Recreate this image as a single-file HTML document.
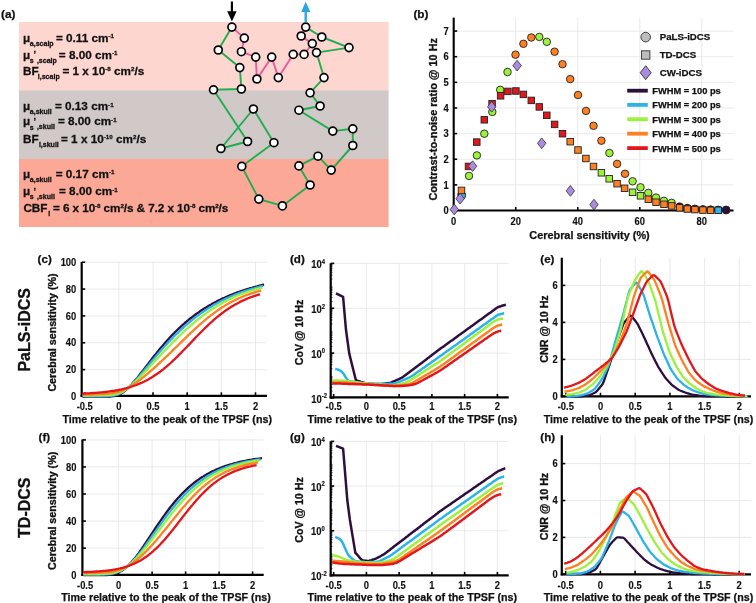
<!DOCTYPE html>
<html><head><meta charset="utf-8"><style>
html,body{margin:0;padding:0;background:#fff;}
svg{display:block;font-family:"Liberation Sans", sans-serif;will-change:transform;} text{stroke:#111;stroke-width:0.25px;} text.rot{stroke-width:0.32px;} text.tk{stroke-width:0.15px;}
</style></head><body>
<svg width="756" height="603" viewBox="0 0 756 603">
<rect width="756" height="603" fill="#fff"/>
<text x="1.0" y="18.0" font-size="11.8" text-anchor="start" font-weight="bold" fill="#111" >(a)</text>
<rect x="19" y="22" width="369.6" height="68.2" fill="#fdd6d0"/>
<rect x="19" y="90.2" width="369.6" height="68.8" fill="#d1c8c8"/>
<rect x="19" y="159" width="369.6" height="68" fill="#fba897"/>
<g transform="matrix(1.068,0,0,1,-1.564,0)">
<text x="23.0" y="41.9" font-size="11" font-weight="bold" fill="#111" text-anchor="start">μ</text>
<text x="29.37" y="45.6" font-size="6.6" font-weight="bold" fill="#111" text-anchor="start">a,scalp</text>
<text x="53.81" y="41.9" font-size="11" font-weight="bold" fill="#111">= 0.11 cm<tspan font-size="5.8" dy="-3.6">-1</tspan></text>
<text x="23.0" y="58.7" font-size="11" font-weight="bold" fill="#111" text-anchor="start">μ</text>
<text x="29.37" y="62.900000000000006" font-size="6.6" font-weight="bold" fill="#111" text-anchor="start">s</text>
<text x="32.93" y="57.5" font-size="8.5" font-weight="bold" fill="#111" text-anchor="start">’</text>
<text x="36.01" y="62.7" font-size="6.6" font-weight="bold" fill="#111" text-anchor="start">,scalp</text>
<text x="56.52" y="58.7" font-size="11" font-weight="bold" fill="#111">= 8.00 cm<tspan font-size="5.8" dy="-3.6">-1</tspan></text>
<text x="23.0" y="75.2" font-size="11" font-weight="bold" fill="#111" text-anchor="start">BF</text>
<text x="36.86" y="79.2" font-size="6.6" font-weight="bold" fill="#111" text-anchor="start">i,scalp</text>
<text x="59.89" y="75.2" font-size="11" font-weight="bold" fill="#111">= 1 x 10<tspan font-size="5.8" dy="-4">-8</tspan><tspan dy="4"> cm</tspan><tspan font-size="5.8" dy="-4">2</tspan><tspan dy="4">/s</tspan></text>
<text x="23.0" y="110.3" font-size="11" font-weight="bold" fill="#111" text-anchor="start">μ</text>
<text x="29.37" y="114.0" font-size="6.6" font-weight="bold" fill="#111" text-anchor="start">a,skull</text>
<text x="52.87" y="110.3" font-size="11" font-weight="bold" fill="#111">= 0.13 cm<tspan font-size="5.8" dy="-3.6">-1</tspan></text>
<text x="23.0" y="125.5" font-size="11" font-weight="bold" fill="#111" text-anchor="start">μ</text>
<text x="29.37" y="129.7" font-size="6.6" font-weight="bold" fill="#111" text-anchor="start">s</text>
<text x="32.93" y="124.3" font-size="8.5" font-weight="bold" fill="#111" text-anchor="start">’</text>
<text x="36.01" y="129.5" font-size="6.6" font-weight="bold" fill="#111" text-anchor="start">,skull</text>
<text x="55.68" y="125.5" font-size="11" font-weight="bold" fill="#111">= 8.00 cm<tspan font-size="5.8" dy="-3.6">-1</tspan></text>
<text x="23.0" y="142.9" font-size="11" font-weight="bold" fill="#111" text-anchor="start">BF</text>
<text x="37.89" y="147.2" font-size="6.6" font-weight="bold" fill="#111" text-anchor="start">i,skull</text>
<text x="58.58" y="142.9" font-size="11" font-weight="bold" fill="#111">= 1 x 10<tspan font-size="5.8" dy="-4">-10</tspan><tspan dy="4"> cm</tspan><tspan font-size="5.8" dy="-4">2</tspan><tspan dy="4">/s</tspan></text>
<text x="23.0" y="178.0" font-size="11" font-weight="bold" fill="#111" text-anchor="start">μ</text>
<text x="29.37" y="181.7" font-size="6.6" font-weight="bold" fill="#111" text-anchor="start">a,skull</text>
<text x="53.62" y="178.0" font-size="11" font-weight="bold" fill="#111">= 0.17 cm<tspan font-size="5.8" dy="-3.6">-1</tspan></text>
<text x="23.0" y="195.3" font-size="11" font-weight="bold" fill="#111" text-anchor="start">μ</text>
<text x="29.37" y="199.5" font-size="6.6" font-weight="bold" fill="#111" text-anchor="start">s</text>
<text x="32.93" y="194.10000000000002" font-size="8.5" font-weight="bold" fill="#111" text-anchor="start">’</text>
<text x="36.01" y="199.3" font-size="6.6" font-weight="bold" fill="#111" text-anchor="start">,skull</text>
<text x="56.71" y="195.3" font-size="11" font-weight="bold" fill="#111">= 8.00 cm<tspan font-size="5.8" dy="-3.6">-1</tspan></text>
<text x="23.37" y="212.0" font-size="11" font-weight="bold" fill="#111" text-anchor="start">CBF</text>
<text x="46.6" y="216.0" font-size="6.6" font-weight="bold" fill="#111" text-anchor="start">i</text>
<text x="51.09" y="212.0" font-size="11" font-weight="bold" fill="#111" letter-spacing="-0.08">= 6 x 10<tspan font-size="5.8" dy="-4">-8</tspan><tspan dy="4"> cm</tspan><tspan font-size="5.8" dy="-4">2</tspan><tspan dy="4">/s &amp; 7.2 x 10</tspan><tspan font-size="5.8" dy="-4">-8</tspan><tspan dy="4"> cm</tspan><tspan font-size="5.8" dy="-4">2</tspan><tspan dy="4">/s</tspan></text>
</g>
<polyline points="231.9,27.1 218.3,50.0 239.8,67.6 241.4,89.0 213.5,89.8 247.6,141.5 220.9,148.5 253.4,109.0 273.9,142.7 241.8,166.4 258.8,199.1 282.4,205.9 310.1,185.0 298.9,165.9 318.0,156.2 331.2,170.1 352.8,145.5 352.8,128.8 332.8,131.1 298.9,110.2 320.1,106.0 310.1,92.8 324.0,77.6 316.5,52.6 349.0,47.6 321.8,37.0 305.7,27.1" fill="none" stroke="#1fae4f" stroke-width="1.9" stroke-linejoin="round" stroke-linecap="butt" />
<polyline points="231.9,27.1 244.3,38.1 241.4,51.7 255.7,57.1 256.9,79.0 271.7,57.1 278.3,77.6 293.2,54.4 304.1,54.4 312.3,43.6 301.2,36.0 305.7,27.1" fill="none" stroke="#ec5aa2" stroke-width="1.9" stroke-linejoin="round" stroke-linecap="butt" />
<circle cx="256.9" cy="79" r="3.95" fill="#fff" stroke="#000" stroke-width="1.7"/>
<circle cx="282.4" cy="205.9" r="3.95" fill="#fff" stroke="#000" stroke-width="1.7"/>
<circle cx="301.2" cy="36" r="3.95" fill="#fff" stroke="#000" stroke-width="1.7"/>
<circle cx="241.8" cy="166.4" r="3.95" fill="#fff" stroke="#000" stroke-width="1.7"/>
<circle cx="218.3" cy="50" r="3.95" fill="#fff" stroke="#000" stroke-width="1.7"/>
<circle cx="273.9" cy="142.7" r="3.95" fill="#fff" stroke="#000" stroke-width="1.7"/>
<circle cx="310.1" cy="185" r="3.95" fill="#fff" stroke="#000" stroke-width="1.7"/>
<circle cx="258.8" cy="199.1" r="3.95" fill="#fff" stroke="#000" stroke-width="1.7"/>
<circle cx="244.3" cy="38.1" r="3.95" fill="#fff" stroke="#000" stroke-width="1.7"/>
<circle cx="220.9" cy="148.5" r="3.95" fill="#fff" stroke="#000" stroke-width="1.7"/>
<circle cx="278.3" cy="77.6" r="3.95" fill="#fff" stroke="#000" stroke-width="1.7"/>
<circle cx="253.4" cy="109" r="3.95" fill="#fff" stroke="#000" stroke-width="1.7"/>
<circle cx="241.4" cy="89" r="3.95" fill="#fff" stroke="#000" stroke-width="1.7"/>
<circle cx="321.8" cy="37" r="3.95" fill="#fff" stroke="#000" stroke-width="1.7"/>
<circle cx="247.6" cy="141.5" r="3.95" fill="#fff" stroke="#000" stroke-width="1.7"/>
<circle cx="320.1" cy="106" r="3.95" fill="#fff" stroke="#000" stroke-width="1.7"/>
<circle cx="298.9" cy="165.9" r="3.95" fill="#fff" stroke="#000" stroke-width="1.7"/>
<circle cx="271.7" cy="57.1" r="3.95" fill="#fff" stroke="#000" stroke-width="1.7"/>
<circle cx="324" cy="77.6" r="3.95" fill="#fff" stroke="#000" stroke-width="1.7"/>
<circle cx="312.3" cy="43.6" r="3.95" fill="#fff" stroke="#000" stroke-width="1.7"/>
<circle cx="318" cy="156.2" r="3.95" fill="#fff" stroke="#000" stroke-width="1.7"/>
<circle cx="349" cy="47.6" r="3.95" fill="#fff" stroke="#000" stroke-width="1.7"/>
<circle cx="241.4" cy="51.7" r="3.95" fill="#fff" stroke="#000" stroke-width="1.7"/>
<circle cx="331.2" cy="170.1" r="3.95" fill="#fff" stroke="#000" stroke-width="1.7"/>
<circle cx="213.5" cy="89.8" r="3.95" fill="#fff" stroke="#000" stroke-width="1.7"/>
<circle cx="298.9" cy="110.2" r="3.95" fill="#fff" stroke="#000" stroke-width="1.7"/>
<circle cx="332.8" cy="131.1" r="3.95" fill="#fff" stroke="#000" stroke-width="1.7"/>
<circle cx="310.1" cy="92.8" r="3.95" fill="#fff" stroke="#000" stroke-width="1.7"/>
<circle cx="352.8" cy="145.5" r="3.95" fill="#fff" stroke="#000" stroke-width="1.7"/>
<circle cx="316.5" cy="52.6" r="3.95" fill="#fff" stroke="#000" stroke-width="1.7"/>
<circle cx="239.8" cy="67.6" r="3.95" fill="#fff" stroke="#000" stroke-width="1.7"/>
<circle cx="231.9" cy="27.1" r="3.95" fill="#fff" stroke="#000" stroke-width="1.7"/>
<circle cx="352.8" cy="128.8" r="3.95" fill="#fff" stroke="#000" stroke-width="1.7"/>
<circle cx="255.7" cy="57.1" r="3.95" fill="#fff" stroke="#000" stroke-width="1.7"/>
<circle cx="305.7" cy="27.1" r="3.95" fill="#fff" stroke="#000" stroke-width="1.7"/>
<circle cx="293.2" cy="54.4" r="3.95" fill="#fff" stroke="#000" stroke-width="1.7"/>
<circle cx="304.1" cy="54.4" r="3.95" fill="#fff" stroke="#000" stroke-width="1.7"/>
<line x1="231.9" y1="1.5" x2="231.9" y2="14" stroke="#000" stroke-width="2.2"/>
<polygon points="227.2,11.2 236.6,11.2 231.9,21.5" fill="#000"/>
<line x1="305.7" y1="22.5" x2="305.7" y2="10" stroke="#29a6e0" stroke-width="2.4"/>
<polygon points="301.2,12 310.4,12 305.7,1.8" fill="#29a6e0"/>
<text x="413.4" y="18.1" font-size="11.8" text-anchor="start" font-weight="bold" fill="#111" >(b)</text>
<line x1="515.73" y1="17.6" x2="515.73" y2="210.5" stroke="#e4e4e4" stroke-width="0.8"/>
<line x1="577.77" y1="17.6" x2="577.77" y2="210.5" stroke="#e4e4e4" stroke-width="0.8"/>
<line x1="639.80" y1="17.6" x2="639.80" y2="210.5" stroke="#e4e4e4" stroke-width="0.8"/>
<line x1="701.84" y1="17.6" x2="701.84" y2="210.5" stroke="#e4e4e4" stroke-width="0.8"/>
<line x1="453.7" y1="184.87" x2="733.5" y2="184.87" stroke="#e4e4e4" stroke-width="0.8"/>
<line x1="453.7" y1="159.24" x2="733.5" y2="159.24" stroke="#e4e4e4" stroke-width="0.8"/>
<line x1="453.7" y1="133.61" x2="733.5" y2="133.61" stroke="#e4e4e4" stroke-width="0.8"/>
<line x1="453.7" y1="107.98" x2="733.5" y2="107.98" stroke="#e4e4e4" stroke-width="0.8"/>
<line x1="453.7" y1="82.35" x2="733.5" y2="82.35" stroke="#e4e4e4" stroke-width="0.8"/>
<line x1="453.7" y1="56.72" x2="733.5" y2="56.72" stroke="#e4e4e4" stroke-width="0.8"/>
<line x1="453.7" y1="31.09" x2="733.5" y2="31.09" stroke="#e4e4e4" stroke-width="0.8"/>
<circle cx="645.7" cy="37.1" r="4.8" fill="#bdbdbd" stroke="#333" stroke-width="0.9"/>
<rect x="641.5" y="50.8" width="8.4" height="8.4" fill="#bdbdbd" stroke="#333" stroke-width="0.9"/>
<polygon points="645.7,65.7 651.2,72.7 645.7,79.7 640.2,72.7" fill="#a98be0" stroke="#333" stroke-width="0.9"/>
<text x="659.7" y="40.4" font-size="9.7" text-anchor="start" font-weight="bold" fill="#111" >PaLS-iDCS</text>
<text x="659.7" y="58.1" font-size="9.7" text-anchor="start" font-weight="bold" fill="#111" >TD-DCS</text>
<text x="659.7" y="75.9" font-size="9.7" text-anchor="start" font-weight="bold" fill="#111" >CW-iDCS</text>
<line x1="627.2" y1="90.7" x2="647.8" y2="90.7" stroke="#2d0f3e" stroke-width="3.8"/>
<text x="652.3" y="94.10000000000001" font-size="9.3" text-anchor="start" font-weight="bold" fill="#111" >FWHM = 100 ps</text>
<line x1="627.2" y1="104.9" x2="647.8" y2="104.9" stroke="#2ab4e8" stroke-width="3.8"/>
<text x="652.3" y="108.30000000000001" font-size="9.3" text-anchor="start" font-weight="bold" fill="#111" >FWHM = 200 ps</text>
<line x1="627.2" y1="119.2" x2="647.8" y2="119.2" stroke="#9cf23a" stroke-width="3.8"/>
<text x="652.3" y="122.60000000000001" font-size="9.3" text-anchor="start" font-weight="bold" fill="#111" >FWHM = 300 ps</text>
<line x1="627.2" y1="133.7" x2="647.8" y2="133.7" stroke="#ff8020" stroke-width="3.8"/>
<text x="652.3" y="137.1" font-size="9.3" text-anchor="start" font-weight="bold" fill="#111" >FWHM = 400 ps</text>
<line x1="627.2" y1="148.1" x2="647.8" y2="148.1" stroke="#e3161c" stroke-width="3.8"/>
<text x="652.3" y="151.5" font-size="9.3" text-anchor="start" font-weight="bold" fill="#111" >FWHM = 500 ps</text>
<line x1="453.7" y1="17.6" x2="453.7" y2="211.5" stroke="#000" stroke-width="2.1"/>
<line x1="452.7" y1="210.5" x2="733.5" y2="210.5" stroke="#000" stroke-width="2.1"/>
<line x1="453.7" y1="210.50" x2="457.2" y2="210.50" stroke="#000" stroke-width="1.6"/>
<line x1="453.7" y1="184.87" x2="457.2" y2="184.87" stroke="#000" stroke-width="1.6"/>
<line x1="453.7" y1="159.24" x2="457.2" y2="159.24" stroke="#000" stroke-width="1.6"/>
<line x1="453.7" y1="133.61" x2="457.2" y2="133.61" stroke="#000" stroke-width="1.6"/>
<line x1="453.7" y1="107.98" x2="457.2" y2="107.98" stroke="#000" stroke-width="1.6"/>
<line x1="453.7" y1="82.35" x2="457.2" y2="82.35" stroke="#000" stroke-width="1.6"/>
<line x1="453.7" y1="56.72" x2="457.2" y2="56.72" stroke="#000" stroke-width="1.6"/>
<line x1="453.7" y1="31.09" x2="457.2" y2="31.09" stroke="#000" stroke-width="1.6"/>
<line x1="453.70" y1="210.5" x2="453.70" y2="207.0" stroke="#000" stroke-width="1.6"/>
<line x1="515.73" y1="210.5" x2="515.73" y2="207.0" stroke="#000" stroke-width="1.6"/>
<line x1="577.77" y1="210.5" x2="577.77" y2="207.0" stroke="#000" stroke-width="1.6"/>
<line x1="639.80" y1="210.5" x2="639.80" y2="207.0" stroke="#000" stroke-width="1.6"/>
<line x1="701.84" y1="210.5" x2="701.84" y2="207.0" stroke="#000" stroke-width="1.6"/>
<circle cx="461.5" cy="194.7" r="3.75" fill="#2d0f3e" stroke="#222" stroke-width="0.9"/>
<circle cx="461.9" cy="195.6" r="3.75" fill="#2ab4e8" stroke="#222" stroke-width="0.9"/>
<circle cx="469" cy="175.9" r="3.75" fill="#9cf23a" stroke="#222" stroke-width="0.9"/>
<circle cx="476.9" cy="155.4" r="3.75" fill="#9cf23a" stroke="#222" stroke-width="0.9"/>
<circle cx="484.3" cy="133.7" r="3.75" fill="#9cf23a" stroke="#222" stroke-width="0.9"/>
<circle cx="492.3" cy="111.9" r="3.75" fill="#9cf23a" stroke="#222" stroke-width="0.9"/>
<circle cx="500.2" cy="89.8" r="3.75" fill="#9cf23a" stroke="#222" stroke-width="0.9"/>
<circle cx="507.5" cy="72" r="3.75" fill="#9cf23a" stroke="#222" stroke-width="0.9"/>
<circle cx="515.5" cy="54.7" r="3.75" fill="#ff8020" stroke="#222" stroke-width="0.9"/>
<circle cx="523.4" cy="43.8" r="3.75" fill="#ff8020" stroke="#222" stroke-width="0.9"/>
<circle cx="531.3" cy="37.5" r="3.75" fill="#ff8020" stroke="#222" stroke-width="0.9"/>
<circle cx="539.3" cy="36.9" r="3.75" fill="#9cf23a" stroke="#222" stroke-width="0.9"/>
<circle cx="546.8" cy="41.8" r="3.75" fill="#9cf23a" stroke="#222" stroke-width="0.9"/>
<circle cx="554.6" cy="51.7" r="3.75" fill="#ff8020" stroke="#222" stroke-width="0.9"/>
<circle cx="562.5" cy="64.2" r="3.75" fill="#ff8020" stroke="#222" stroke-width="0.9"/>
<circle cx="570.2" cy="79.1" r="3.75" fill="#ff8020" stroke="#222" stroke-width="0.9"/>
<circle cx="578" cy="95" r="3.75" fill="#ff8020" stroke="#222" stroke-width="0.9"/>
<circle cx="586" cy="110.9" r="3.75" fill="#ff8020" stroke="#222" stroke-width="0.9"/>
<circle cx="593.5" cy="125.8" r="3.75" fill="#ff8020" stroke="#222" stroke-width="0.9"/>
<circle cx="601.4" cy="140.7" r="3.75" fill="#ff8020" stroke="#222" stroke-width="0.9"/>
<circle cx="609.4" cy="153" r="3.75" fill="#9cf23a" stroke="#222" stroke-width="0.9"/>
<circle cx="617.1" cy="163.9" r="3.75" fill="#ff8020" stroke="#222" stroke-width="0.9"/>
<circle cx="625" cy="173.8" r="3.75" fill="#ff8020" stroke="#222" stroke-width="0.9"/>
<circle cx="632.6" cy="181.3" r="3.75" fill="#9cf23a" stroke="#222" stroke-width="0.9"/>
<circle cx="640.5" cy="187.3" r="3.75" fill="#9cf23a" stroke="#222" stroke-width="0.9"/>
<circle cx="648.3" cy="192.9" r="3.75" fill="#9cf23a" stroke="#222" stroke-width="0.9"/>
<circle cx="656" cy="197.6" r="3.75" fill="#9cf23a" stroke="#222" stroke-width="0.9"/>
<circle cx="663.9" cy="200.8" r="3.75" fill="#9cf23a" stroke="#222" stroke-width="0.9"/>
<circle cx="671.6" cy="202.8" r="3.75" fill="#9cf23a" stroke="#222" stroke-width="0.9"/>
<circle cx="679.6" cy="206.6" r="3.75" fill="#2d0f3e" stroke="#222" stroke-width="0.9"/>
<circle cx="687.3" cy="208.0" r="3.75" fill="#2d0f3e" stroke="#222" stroke-width="0.9"/>
<circle cx="694.9" cy="208.8" r="3.75" fill="#2d0f3e" stroke="#222" stroke-width="0.9"/>
<circle cx="702.9" cy="209.3" r="3.75" fill="#2d0f3e" stroke="#222" stroke-width="0.9"/>
<circle cx="710.6" cy="209.6" r="3.75" fill="#2d0f3e" stroke="#222" stroke-width="0.9"/>
<circle cx="718.2" cy="209.8" r="3.75" fill="#2d0f3e" stroke="#222" stroke-width="0.9"/>
<circle cx="726.1" cy="209.8" r="3.75" fill="#2d0f3e" stroke="#222" stroke-width="0.9"/>
<rect x="458.25" y="187.15" width="6.5" height="6.5" fill="#ff8020" stroke="#222" stroke-width="0.9"/>
<rect x="465.25" y="163.15" width="6.5" height="6.5" fill="#e3161c" stroke="#222" stroke-width="0.9"/>
<rect x="473.55" y="138.85" width="6.5" height="6.5" fill="#e3161c" stroke="#222" stroke-width="0.9"/>
<rect x="481.05" y="116.55" width="6.5" height="6.5" fill="#e3161c" stroke="#222" stroke-width="0.9"/>
<rect x="488.85" y="100.45" width="6.5" height="6.5" fill="#e3161c" stroke="#222" stroke-width="0.9"/>
<rect x="497.35" y="92.55" width="6.5" height="6.5" fill="#e3161c" stroke="#222" stroke-width="0.9"/>
<rect x="504.65" y="88.15" width="6.5" height="6.5" fill="#e3161c" stroke="#222" stroke-width="0.9"/>
<rect x="512.65" y="87.75" width="6.5" height="6.5" fill="#e3161c" stroke="#222" stroke-width="0.9"/>
<rect x="520.15" y="91.15" width="6.5" height="6.5" fill="#e3161c" stroke="#222" stroke-width="0.9"/>
<rect x="528.05" y="97.15" width="6.5" height="6.5" fill="#e3161c" stroke="#222" stroke-width="0.9"/>
<rect x="536.05" y="103.65" width="6.5" height="6.5" fill="#e3161c" stroke="#222" stroke-width="0.9"/>
<rect x="543.55" y="112.05" width="6.5" height="6.5" fill="#e3161c" stroke="#222" stroke-width="0.9"/>
<rect x="551.35" y="121.15" width="6.5" height="6.5" fill="#e3161c" stroke="#222" stroke-width="0.9"/>
<rect x="559.25" y="130.45" width="6.5" height="6.5" fill="#e3161c" stroke="#222" stroke-width="0.9"/>
<rect x="566.95" y="138.45" width="6.5" height="6.5" fill="#ff8020" stroke="#222" stroke-width="0.9"/>
<rect x="574.75" y="146.75" width="6.5" height="6.5" fill="#ff8020" stroke="#222" stroke-width="0.9"/>
<rect x="582.65" y="155.25" width="6.5" height="6.5" fill="#ff8020" stroke="#222" stroke-width="0.9"/>
<rect x="590.25" y="163.25" width="6.5" height="6.5" fill="#ff8020" stroke="#222" stroke-width="0.9"/>
<rect x="598.15" y="169.55" width="6.5" height="6.5" fill="#9cf23a" stroke="#222" stroke-width="0.9"/>
<rect x="605.95" y="175.55" width="6.5" height="6.5" fill="#9cf23a" stroke="#222" stroke-width="0.9"/>
<rect x="613.85" y="180.45" width="6.5" height="6.5" fill="#ff8020" stroke="#222" stroke-width="0.9"/>
<rect x="621.35" y="185.05" width="6.5" height="6.5" fill="#ff8020" stroke="#222" stroke-width="0.9"/>
<rect x="629.35" y="189.05" width="6.5" height="6.5" fill="#9cf23a" stroke="#222" stroke-width="0.9"/>
<rect x="637.25" y="192.55" width="6.5" height="6.5" fill="#9cf23a" stroke="#222" stroke-width="0.9"/>
<rect x="645.05" y="195.95" width="6.5" height="6.5" fill="#ff8020" stroke="#222" stroke-width="0.9"/>
<rect x="652.75" y="198.95" width="6.5" height="6.5" fill="#ff8020" stroke="#222" stroke-width="0.9"/>
<rect x="660.75" y="201.05" width="6.5" height="6.5" fill="#ff8020" stroke="#222" stroke-width="0.9"/>
<rect x="668.35" y="202.65" width="6.5" height="6.5" fill="#ff8020" stroke="#222" stroke-width="0.9"/>
<rect x="676.35" y="204.55" width="6.5" height="6.5" fill="#ff8020" stroke="#222" stroke-width="0.9"/>
<rect x="684.05" y="205.75" width="6.5" height="6.5" fill="#ff8020" stroke="#222" stroke-width="0.9"/>
<rect x="691.65" y="206.35" width="6.5" height="6.5" fill="#ff8020" stroke="#222" stroke-width="0.9"/>
<rect x="699.65" y="206.85" width="6.5" height="6.5" fill="#ff8020" stroke="#222" stroke-width="0.9"/>
<rect x="707.35" y="207.05" width="6.5" height="6.5" fill="#ff8020" stroke="#222" stroke-width="0.9"/>
<rect x="714.95" y="207.05" width="6.5" height="6.5" fill="#2ab4e8" stroke="#222" stroke-width="0.9"/>
<circle cx="726.1" cy="210.2" r="3.75" fill="#2d0f3e" stroke="#222" stroke-width="0.9"/>
<polygon points="454.3,204.1 458.5,209.5 454.3,214.9 450.1,209.5" fill="#a98be0" stroke="#333" stroke-width="0.8"/>
<polygon points="460.1,193.29999999999998 464.3,198.7 460.1,204.1 455.90000000000003,198.7" fill="#a98be0" stroke="#333" stroke-width="0.8"/>
<polygon points="472.6,160.79999999999998 476.8,166.2 472.6,171.6 468.40000000000003,166.2" fill="#a98be0" stroke="#333" stroke-width="0.8"/>
<polygon points="491.7,101.39999999999999 495.9,106.8 491.7,112.2 487.5,106.8" fill="#a98be0" stroke="#333" stroke-width="0.8"/>
<polygon points="517.1,60.199999999999996 521.3000000000001,65.6 517.1,71.0 512.9,65.6" fill="#a98be0" stroke="#333" stroke-width="0.8"/>
<polygon points="541.7,137.9 545.9000000000001,143.3 541.7,148.70000000000002 537.5,143.3" fill="#a98be0" stroke="#333" stroke-width="0.8"/>
<polygon points="570.4,185.5 574.6,190.9 570.4,196.3 566.1999999999999,190.9" fill="#a98be0" stroke="#333" stroke-width="0.8"/>
<polygon points="594,199.2 598.2,204.6 594,210.0 589.8,204.6" fill="#a98be0" stroke="#333" stroke-width="0.8"/>
<text class="tk" x="0" y="0" font-size="10.2" text-anchor="end" font-weight="bold" fill="#111" transform="translate(448.60,214.20) scale(0.92,1)">0</text>
<text class="tk" x="0" y="0" font-size="10.2" text-anchor="end" font-weight="bold" fill="#111" transform="translate(448.60,188.57) scale(0.92,1)">1</text>
<text class="tk" x="0" y="0" font-size="10.2" text-anchor="end" font-weight="bold" fill="#111" transform="translate(448.60,162.94) scale(0.92,1)">2</text>
<text class="tk" x="0" y="0" font-size="10.2" text-anchor="end" font-weight="bold" fill="#111" transform="translate(448.60,137.31) scale(0.92,1)">3</text>
<text class="tk" x="0" y="0" font-size="10.2" text-anchor="end" font-weight="bold" fill="#111" transform="translate(448.60,111.68) scale(0.92,1)">4</text>
<text class="tk" x="0" y="0" font-size="10.2" text-anchor="end" font-weight="bold" fill="#111" transform="translate(448.60,86.05) scale(0.92,1)">5</text>
<text class="tk" x="0" y="0" font-size="10.2" text-anchor="end" font-weight="bold" fill="#111" transform="translate(448.60,60.42) scale(0.92,1)">6</text>
<text class="tk" x="0" y="0" font-size="10.2" text-anchor="end" font-weight="bold" fill="#111" transform="translate(448.60,34.79) scale(0.92,1)">7</text>
<text class="tk" x="0" y="0" font-size="10.2" text-anchor="middle" font-weight="bold" fill="#111" transform="translate(453.70,224.90) scale(0.92,1)">0</text>
<text class="tk" x="0" y="0" font-size="10.2" text-anchor="middle" font-weight="bold" fill="#111" transform="translate(515.73,224.90) scale(0.92,1)">20</text>
<text class="tk" x="0" y="0" font-size="10.2" text-anchor="middle" font-weight="bold" fill="#111" transform="translate(577.77,224.90) scale(0.92,1)">40</text>
<text class="tk" x="0" y="0" font-size="10.2" text-anchor="middle" font-weight="bold" fill="#111" transform="translate(639.80,224.90) scale(0.92,1)">60</text>
<text class="tk" x="0" y="0" font-size="10.2" text-anchor="middle" font-weight="bold" fill="#111" transform="translate(701.84,224.90) scale(0.92,1)">80</text>
<text x="589.5" y="238.9" font-size="10.9" text-anchor="middle" font-weight="bold" fill="#111" >Cerebral sensitivity (%)</text>
<text x="0" y="0" font-size="10.9" font-weight="bold" class="rot" fill="#111" text-anchor="middle" transform="translate(436.9,119.3) rotate(-90)">Contrast-to-noise ratio @ 10 Hz</text>
<line x1="118.90" y1="262" x2="118.90" y2="395.8" stroke="#e4e4e4" stroke-width="0.8"/>
<line x1="153.05" y1="262" x2="153.05" y2="395.8" stroke="#e4e4e4" stroke-width="0.8"/>
<line x1="187.20" y1="262" x2="187.20" y2="395.8" stroke="#e4e4e4" stroke-width="0.8"/>
<line x1="221.35" y1="262" x2="221.35" y2="395.8" stroke="#e4e4e4" stroke-width="0.8"/>
<line x1="255.50" y1="262" x2="255.50" y2="395.8" stroke="#e4e4e4" stroke-width="0.8"/>
<line x1="81.7" y1="369.64" x2="267" y2="369.64" stroke="#e4e4e4" stroke-width="0.8"/>
<line x1="81.7" y1="342.78" x2="267" y2="342.78" stroke="#e4e4e4" stroke-width="0.8"/>
<line x1="81.7" y1="315.92" x2="267" y2="315.92" stroke="#e4e4e4" stroke-width="0.8"/>
<line x1="81.7" y1="289.06" x2="267" y2="289.06" stroke="#e4e4e4" stroke-width="0.8"/>
<line x1="81.7" y1="262.20" x2="267" y2="262.20" stroke="#e4e4e4" stroke-width="0.8"/>
<line x1="81.7" y1="262" x2="81.7" y2="396.90000000000003" stroke="#000" stroke-width="2.2"/>
<line x1="80.60000000000001" y1="395.8" x2="267" y2="395.8" stroke="#000" stroke-width="2.2"/>
<line x1="81.7" y1="396.50" x2="85.2" y2="396.50" stroke="#000" stroke-width="1.6"/>
<text class="tk" x="0" y="0" font-size="10.2" text-anchor="end" font-weight="bold" fill="#111" transform="translate(76.30,400.20) scale(0.92,1)">0</text>
<line x1="81.7" y1="369.64" x2="85.2" y2="369.64" stroke="#000" stroke-width="1.6"/>
<text class="tk" x="0" y="0" font-size="10.2" text-anchor="end" font-weight="bold" fill="#111" transform="translate(76.30,373.34) scale(0.92,1)">20</text>
<line x1="81.7" y1="342.78" x2="85.2" y2="342.78" stroke="#000" stroke-width="1.6"/>
<text class="tk" x="0" y="0" font-size="10.2" text-anchor="end" font-weight="bold" fill="#111" transform="translate(76.30,346.48) scale(0.92,1)">40</text>
<line x1="81.7" y1="315.92" x2="85.2" y2="315.92" stroke="#000" stroke-width="1.6"/>
<text class="tk" x="0" y="0" font-size="10.2" text-anchor="end" font-weight="bold" fill="#111" transform="translate(76.30,319.62) scale(0.92,1)">60</text>
<line x1="81.7" y1="289.06" x2="85.2" y2="289.06" stroke="#000" stroke-width="1.6"/>
<text class="tk" x="0" y="0" font-size="10.2" text-anchor="end" font-weight="bold" fill="#111" transform="translate(76.30,292.76) scale(0.92,1)">80</text>
<line x1="81.7" y1="262.20" x2="85.2" y2="262.20" stroke="#000" stroke-width="1.6"/>
<text class="tk" x="0" y="0" font-size="10.2" text-anchor="end" font-weight="bold" fill="#111" transform="translate(76.30,265.90) scale(0.92,1)">100</text>
<line x1="84.75" y1="395.8" x2="84.75" y2="392.3" stroke="#000" stroke-width="1.6"/>
<text class="tk" x="0" y="0" font-size="10.2" text-anchor="middle" font-weight="bold" fill="#111" transform="translate(84.75,410.10) scale(0.92,1)">-0.5</text>
<line x1="118.90" y1="395.8" x2="118.90" y2="392.3" stroke="#000" stroke-width="1.6"/>
<text class="tk" x="0" y="0" font-size="10.2" text-anchor="middle" font-weight="bold" fill="#111" transform="translate(118.90,410.10) scale(0.92,1)">0</text>
<line x1="153.05" y1="395.8" x2="153.05" y2="392.3" stroke="#000" stroke-width="1.6"/>
<text class="tk" x="0" y="0" font-size="10.2" text-anchor="middle" font-weight="bold" fill="#111" transform="translate(153.05,410.10) scale(0.92,1)">0.5</text>
<line x1="187.20" y1="395.8" x2="187.20" y2="392.3" stroke="#000" stroke-width="1.6"/>
<text class="tk" x="0" y="0" font-size="10.2" text-anchor="middle" font-weight="bold" fill="#111" transform="translate(187.20,410.10) scale(0.92,1)">1</text>
<line x1="221.35" y1="395.8" x2="221.35" y2="392.3" stroke="#000" stroke-width="1.6"/>
<text class="tk" x="0" y="0" font-size="10.2" text-anchor="middle" font-weight="bold" fill="#111" transform="translate(221.35,410.10) scale(0.92,1)">1.5</text>
<line x1="255.50" y1="395.8" x2="255.50" y2="392.3" stroke="#000" stroke-width="1.6"/>
<text class="tk" x="0" y="0" font-size="10.2" text-anchor="middle" font-weight="bold" fill="#111" transform="translate(255.50,410.10) scale(0.92,1)">2</text>
<text x="167.25" y="422.8" font-size="10.7" text-anchor="middle" font-weight="bold" fill="#111" >Time relative to the peak of the TPSF (ns)</text>
<text x="0" y="0" font-size="10.7" font-weight="bold" class="rot" fill="#111" text-anchor="middle" transform="translate(55.6,332.5) rotate(-90)">Cerebral sensitivity (%)</text>
<text x="37.6" y="262.7" font-size="11.6" text-anchor="start" font-weight="bold" fill="#111" >(c)</text>
<polyline points="82.7,396.5 84.2,396.5 85.7,396.5 87.3,396.5 88.8,396.5 90.3,396.5 91.8,396.5 93.4,396.5 94.9,396.5 96.4,396.5 97.9,396.5 99.5,396.5 101.0,396.5 102.5,396.5 104.0,396.5 105.6,396.5 107.1,396.5 108.6,396.5 110.1,396.5 111.7,396.4 113.2,396.2 114.7,396.0 116.2,395.6 117.8,395.1 119.3,394.5 120.8,393.7 122.3,392.7 123.9,391.7 125.4,390.4 126.9,389.1 128.4,387.7 130.0,386.1 131.5,384.5 133.0,382.8 134.5,381.0 136.1,379.2 137.6,377.4 139.1,375.4 140.6,373.5 142.2,371.5 143.7,369.6 145.2,367.6 146.7,365.6 148.3,363.6 149.8,361.6 151.3,359.7 152.8,357.7 154.3,355.8 155.9,353.9 157.4,352.0 158.9,350.1 160.4,348.3 162.0,346.5 163.5,344.7 165.0,342.9 166.5,341.2 168.1,339.5 169.6,337.8 171.1,336.2 172.6,334.6 174.2,333.1 175.7,331.5 177.2,330.0 178.7,328.6 180.3,327.1 181.8,325.7 183.3,324.4 184.8,323.0 186.4,321.7 187.9,320.5 189.4,319.2 190.9,318.0 192.5,316.8 194.0,315.7 195.5,314.5 197.0,313.4 198.6,312.4 200.1,311.3 201.6,310.3 203.1,309.3 204.7,308.3 206.2,307.4 207.7,306.5 209.2,305.6 210.8,304.7 212.3,303.8 213.8,303.0 215.3,302.2 216.8,301.4 218.4,300.6 219.9,299.9 221.4,299.1 222.9,298.4 224.5,297.7 226.0,297.0 227.5,296.4 229.0,295.7 230.6,295.1 232.1,294.5 233.6,293.9 235.1,293.3 236.7,292.7 238.2,292.2 239.7,291.6 241.2,291.1 242.8,290.6 244.3,290.1 245.8,289.6 247.3,289.1 248.9,288.7 250.4,288.2 251.9,287.8 253.4,287.3 255.0,286.9 256.5,286.5 258.0,286.1 259.5,285.7 261.1,285.3 262.6,284.9 264.1,284.6" fill="none" stroke="#2d0f3e" stroke-width="2.3" stroke-linejoin="round" stroke-linecap="butt" />
<polyline points="82.7,396.1 84.2,396.1 85.7,396.1 87.2,396.1 88.8,396.1 90.3,396.1 91.8,396.1 93.3,396.1 94.8,396.1 96.3,396.1 97.9,396.0 99.4,396.0 100.9,396.0 102.4,396.0 103.9,396.0 105.4,396.0 106.9,395.9 108.5,395.9 110.0,395.9 111.5,395.8 113.0,395.6 114.5,395.4 116.0,395.0 117.6,394.6 119.1,394.0 120.6,393.3 122.1,392.4 123.6,391.5 125.1,390.4 126.6,389.2 128.2,387.9 129.7,386.5 131.2,385.1 132.7,383.5 134.2,381.9 135.7,380.3 137.2,378.6 138.8,376.8 140.3,375.1 141.8,373.3 143.3,371.5 144.8,369.7 146.3,367.8 147.9,366.0 149.4,364.2 150.9,362.3 152.4,360.5 153.9,358.7 155.4,356.9 156.9,355.1 158.5,353.3 160.0,351.6 161.5,349.9 163.0,348.1 164.5,346.5 166.0,344.8 167.6,343.1 169.1,341.5 170.6,339.9 172.1,338.4 173.6,336.8 175.1,335.3 176.6,333.8 178.2,332.3 179.7,330.9 181.2,329.5 182.7,328.1 184.2,326.7 185.7,325.4 187.3,324.0 188.8,322.8 190.3,321.5 191.8,320.3 193.3,319.0 194.8,317.9 196.3,316.7 197.9,315.6 199.4,314.4 200.9,313.4 202.4,312.3 203.9,311.3 205.4,310.2 206.9,309.2 208.5,308.3 210.0,307.3 211.5,306.4 213.0,305.5 214.5,304.6 216.0,303.8 217.6,302.9 219.1,302.1 220.6,301.3 222.1,300.5 223.6,299.8 225.1,299.1 226.6,298.3 228.2,297.6 229.7,297.0 231.2,296.3 232.7,295.7 234.2,295.0 235.7,294.4 237.3,293.8 238.8,293.2 240.3,292.7 241.8,292.1 243.3,291.6 244.8,291.1 246.3,290.6 247.9,290.1 249.4,289.6 250.9,289.2 252.4,288.7 253.9,288.3 255.4,287.8 257.0,287.4 258.5,287.0 260.0,286.6 261.5,286.2 263.0,285.9" fill="none" stroke="#2ab4e8" stroke-width="2.3" stroke-linejoin="round" stroke-linecap="butt" />
<polyline points="82.7,395.6 84.2,395.6 85.7,395.6 87.2,395.6 88.7,395.5 90.2,395.5 91.8,395.5 93.3,395.5 94.8,395.4 96.3,395.4 97.8,395.4 99.3,395.3 100.8,395.3 102.3,395.2 103.8,395.2 105.3,395.1 106.9,395.1 108.4,395.0 109.9,394.9 111.4,394.8 112.9,394.7 114.4,394.4 115.9,394.1 117.4,393.7 118.9,393.2 120.4,392.6 121.9,391.9 123.5,391.0 125.0,390.1 126.5,389.1 128.0,388.0 129.5,386.8 131.0,385.6 132.5,384.3 134.0,382.9 135.5,381.5 137.0,380.0 138.6,378.5 140.1,377.0 141.6,375.4 143.1,373.9 144.6,372.3 146.1,370.7 147.6,369.1 149.1,367.4 150.6,365.8 152.1,364.2 153.6,362.5 155.2,360.9 156.7,359.3 158.2,357.7 159.7,356.0 161.2,354.4 162.7,352.8 164.2,351.2 165.7,349.7 167.2,348.1 168.7,346.5 170.3,345.0 171.8,343.5 173.3,341.9 174.8,340.4 176.3,338.9 177.8,337.5 179.3,336.0 180.8,334.6 182.3,333.1 183.8,331.7 185.3,330.4 186.9,329.0 188.4,327.6 189.9,326.3 191.4,325.0 192.9,323.7 194.4,322.4 195.9,321.2 197.4,320.0 198.9,318.7 200.4,317.6 202.0,316.4 203.5,315.3 205.0,314.1 206.5,313.1 208.0,312.0 209.5,310.9 211.0,309.9 212.5,308.9 214.0,307.9 215.5,307.0 217.0,306.1 218.6,305.2 220.1,304.3 221.6,303.4 223.1,302.6 224.6,301.8 226.1,301.0 227.6,300.2 229.1,299.5 230.6,298.7 232.1,298.0 233.6,297.3 235.2,296.7 236.7,296.0 238.2,295.4 239.7,294.8 241.2,294.2 242.7,293.6 244.2,293.1 245.7,292.5 247.2,292.0 248.7,291.5 250.3,291.0 251.8,290.5 253.3,290.1 254.8,289.6 256.3,289.2 257.8,288.8 259.3,288.4 260.8,288.0 262.3,287.6" fill="none" stroke="#9cf23a" stroke-width="2.3" stroke-linejoin="round" stroke-linecap="butt" />
<polyline points="82.7,394.7 84.2,394.7 85.7,394.7 87.2,394.6 88.7,394.6 90.2,394.5 91.7,394.5 93.2,394.4 94.7,394.3 96.2,394.3 97.7,394.2 99.2,394.1 100.7,394.1 102.2,394.0 103.7,393.9 105.2,393.8 106.7,393.7 108.2,393.6 109.7,393.4 111.2,393.3 112.7,393.1 114.2,392.9 115.7,392.6 117.2,392.2 118.7,391.8 120.2,391.4 121.7,390.8 123.2,390.2 124.7,389.5 126.2,388.8 127.7,388.0 129.2,387.2 130.7,386.3 132.2,385.3 133.7,384.3 135.2,383.3 136.7,382.2 138.2,381.2 139.7,380.0 141.2,378.9 142.7,377.7 144.2,376.5 145.7,375.2 147.2,374.0 148.7,372.7 150.2,371.4 151.7,370.1 153.2,368.8 154.7,367.4 156.2,366.1 157.7,364.7 159.2,363.3 160.7,361.9 162.2,360.5 163.7,359.1 165.2,357.6 166.8,356.2 168.3,354.8 169.8,353.3 171.3,351.9 172.8,350.4 174.3,348.9 175.8,347.5 177.3,346.0 178.8,344.5 180.3,343.1 181.8,341.6 183.3,340.1 184.8,338.7 186.3,337.2 187.8,335.8 189.3,334.3 190.8,332.9 192.3,331.5 193.8,330.1 195.3,328.7 196.8,327.3 198.3,326.0 199.8,324.6 201.3,323.3 202.8,322.0 204.3,320.7 205.8,319.5 207.3,318.2 208.8,317.0 210.3,315.9 211.8,314.7 213.3,313.6 214.8,312.5 216.3,311.4 217.8,310.3 219.3,309.3 220.8,308.3 222.3,307.3 223.8,306.4 225.3,305.4 226.8,304.6 228.3,303.7 229.8,302.8 231.3,302.0 232.8,301.2 234.3,300.5 235.8,299.7 237.3,299.0 238.8,298.3 240.3,297.7 241.8,297.0 243.3,296.4 244.8,295.8 246.3,295.2 247.8,294.7 249.3,294.1 250.8,293.6 252.3,293.1 253.8,292.6 255.3,292.2 256.8,291.7 258.3,291.3 259.8,290.9 261.3,290.5" fill="none" stroke="#ff8020" stroke-width="2.3" stroke-linejoin="round" stroke-linecap="butt" />
<polyline points="82.7,393.6 84.2,393.5 85.7,393.4 87.2,393.4 88.7,393.3 90.2,393.2 91.6,393.1 93.1,393.0 94.6,392.9 96.1,392.8 97.6,392.7 99.1,392.6 100.6,392.4 102.1,392.3 103.6,392.1 105.1,392.0 106.5,391.8 108.0,391.6 109.5,391.4 111.0,391.2 112.5,391.0 114.0,390.8 115.5,390.5 117.0,390.3 118.5,390.0 120.0,389.7 121.4,389.4 122.9,389.0 124.4,388.7 125.9,388.3 127.4,387.9 128.9,387.5 130.4,387.0 131.9,386.5 133.4,386.0 134.9,385.5 136.3,385.0 137.8,384.4 139.3,383.8 140.8,383.1 142.3,382.5 143.8,381.8 145.3,381.0 146.8,380.2 148.3,379.4 149.7,378.6 151.2,377.7 152.7,376.8 154.2,375.8 155.7,374.8 157.2,373.8 158.7,372.8 160.2,371.7 161.7,370.5 163.2,369.3 164.6,368.1 166.1,366.9 167.6,365.6 169.1,364.3 170.6,363.0 172.1,361.6 173.6,360.2 175.1,358.8 176.6,357.3 178.1,355.9 179.5,354.4 181.0,352.9 182.5,351.3 184.0,349.8 185.5,348.3 187.0,346.7 188.5,345.1 190.0,343.6 191.5,342.0 193.0,340.4 194.4,338.9 195.9,337.3 197.4,335.8 198.9,334.2 200.4,332.7 201.9,331.2 203.4,329.7 204.9,328.2 206.4,326.8 207.9,325.4 209.3,324.0 210.8,322.6 212.3,321.3 213.8,319.9 215.3,318.6 216.8,317.4 218.3,316.2 219.8,315.0 221.3,313.8 222.8,312.7 224.2,311.6 225.7,310.5 227.2,309.5 228.7,308.5 230.2,307.5 231.7,306.6 233.2,305.7 234.7,304.8 236.2,304.0 237.7,303.2 239.1,302.4 240.6,301.6 242.1,300.9 243.6,300.2 245.1,299.6 246.6,298.9 248.1,298.3 249.6,297.7 251.1,297.2 252.6,296.6 254.0,296.1 255.5,295.6 257.0,295.2 258.5,294.7 260.0,294.3" fill="none" stroke="#e3161c" stroke-width="2.3" stroke-linejoin="round" stroke-linecap="butt" />
<line x1="118.60" y1="439.5" x2="118.60" y2="574.9" stroke="#e4e4e4" stroke-width="0.8"/>
<line x1="152.10" y1="439.5" x2="152.10" y2="574.9" stroke="#e4e4e4" stroke-width="0.8"/>
<line x1="185.60" y1="439.5" x2="185.60" y2="574.9" stroke="#e4e4e4" stroke-width="0.8"/>
<line x1="219.10" y1="439.5" x2="219.10" y2="574.9" stroke="#e4e4e4" stroke-width="0.8"/>
<line x1="252.60" y1="439.5" x2="252.60" y2="574.9" stroke="#e4e4e4" stroke-width="0.8"/>
<line x1="82.4" y1="548.14" x2="263.7" y2="548.14" stroke="#e4e4e4" stroke-width="0.8"/>
<line x1="82.4" y1="521.08" x2="263.7" y2="521.08" stroke="#e4e4e4" stroke-width="0.8"/>
<line x1="82.4" y1="494.02" x2="263.7" y2="494.02" stroke="#e4e4e4" stroke-width="0.8"/>
<line x1="82.4" y1="466.96" x2="263.7" y2="466.96" stroke="#e4e4e4" stroke-width="0.8"/>
<line x1="82.4" y1="439.90" x2="263.7" y2="439.90" stroke="#e4e4e4" stroke-width="0.8"/>
<line x1="82.4" y1="439.5" x2="82.4" y2="576.0" stroke="#000" stroke-width="2.2"/>
<line x1="81.30000000000001" y1="574.9" x2="263.7" y2="574.9" stroke="#000" stroke-width="2.2"/>
<line x1="82.4" y1="575.20" x2="85.9" y2="575.20" stroke="#000" stroke-width="1.6"/>
<text class="tk" x="0" y="0" font-size="10.2" text-anchor="end" font-weight="bold" fill="#111" transform="translate(76.50,578.90) scale(0.92,1)">0</text>
<line x1="82.4" y1="548.14" x2="85.9" y2="548.14" stroke="#000" stroke-width="1.6"/>
<text class="tk" x="0" y="0" font-size="10.2" text-anchor="end" font-weight="bold" fill="#111" transform="translate(76.50,551.84) scale(0.92,1)">20</text>
<line x1="82.4" y1="521.08" x2="85.9" y2="521.08" stroke="#000" stroke-width="1.6"/>
<text class="tk" x="0" y="0" font-size="10.2" text-anchor="end" font-weight="bold" fill="#111" transform="translate(76.50,524.78) scale(0.92,1)">40</text>
<line x1="82.4" y1="494.02" x2="85.9" y2="494.02" stroke="#000" stroke-width="1.6"/>
<text class="tk" x="0" y="0" font-size="10.2" text-anchor="end" font-weight="bold" fill="#111" transform="translate(76.50,497.72) scale(0.92,1)">60</text>
<line x1="82.4" y1="466.96" x2="85.9" y2="466.96" stroke="#000" stroke-width="1.6"/>
<text class="tk" x="0" y="0" font-size="10.2" text-anchor="end" font-weight="bold" fill="#111" transform="translate(76.50,470.66) scale(0.92,1)">80</text>
<line x1="82.4" y1="439.90" x2="85.9" y2="439.90" stroke="#000" stroke-width="1.6"/>
<text class="tk" x="0" y="0" font-size="10.2" text-anchor="end" font-weight="bold" fill="#111" transform="translate(76.50,443.60) scale(0.92,1)">100</text>
<line x1="85.10" y1="574.9" x2="85.10" y2="571.4" stroke="#000" stroke-width="1.6"/>
<text class="tk" x="0" y="0" font-size="10.2" text-anchor="middle" font-weight="bold" fill="#111" transform="translate(85.10,588.70) scale(0.92,1)">-0.5</text>
<line x1="118.60" y1="574.9" x2="118.60" y2="571.4" stroke="#000" stroke-width="1.6"/>
<text class="tk" x="0" y="0" font-size="10.2" text-anchor="middle" font-weight="bold" fill="#111" transform="translate(118.60,588.70) scale(0.92,1)">0</text>
<line x1="152.10" y1="574.9" x2="152.10" y2="571.4" stroke="#000" stroke-width="1.6"/>
<text class="tk" x="0" y="0" font-size="10.2" text-anchor="middle" font-weight="bold" fill="#111" transform="translate(152.10,588.70) scale(0.92,1)">0.5</text>
<line x1="185.60" y1="574.9" x2="185.60" y2="571.4" stroke="#000" stroke-width="1.6"/>
<text class="tk" x="0" y="0" font-size="10.2" text-anchor="middle" font-weight="bold" fill="#111" transform="translate(185.60,588.70) scale(0.92,1)">1</text>
<line x1="219.10" y1="574.9" x2="219.10" y2="571.4" stroke="#000" stroke-width="1.6"/>
<text class="tk" x="0" y="0" font-size="10.2" text-anchor="middle" font-weight="bold" fill="#111" transform="translate(219.10,588.70) scale(0.92,1)">1.5</text>
<line x1="252.60" y1="574.9" x2="252.60" y2="571.4" stroke="#000" stroke-width="1.6"/>
<text class="tk" x="0" y="0" font-size="10.2" text-anchor="middle" font-weight="bold" fill="#111" transform="translate(252.60,588.70) scale(0.92,1)">2</text>
<text x="166" y="600.6" font-size="10.7" text-anchor="middle" font-weight="bold" fill="#111" >Time relative to the peak of the TPSF (ns)</text>
<text x="0" y="0" font-size="10.7" font-weight="bold" class="rot" fill="#111" text-anchor="middle" transform="translate(55.6,510.9) rotate(-90)">Cerebral sensitivity (%)</text>
<text x="38.6" y="440.7" font-size="11.6" text-anchor="start" font-weight="bold" fill="#111" >(f)</text>
<polyline points="83.1,575.2 84.6,575.2 86.1,575.2 87.6,575.2 89.1,575.2 90.6,575.2 92.1,575.2 93.6,575.2 95.1,575.2 96.6,575.2 98.1,575.2 99.6,575.2 101.1,575.2 102.6,575.2 104.1,575.1 105.6,575.1 107.1,575.0 108.6,574.9 110.1,574.7 111.7,574.5 113.2,574.2 114.7,573.8 116.2,573.4 117.7,572.8 119.2,572.1 120.7,571.3 122.2,570.4 123.7,569.4 125.2,568.2 126.7,567.0 128.2,565.6 129.7,564.1 131.2,562.5 132.7,560.8 134.2,559.0 135.7,557.1 137.2,555.1 138.7,553.1 140.2,551.0 141.7,548.9 143.2,546.7 144.7,544.5 146.2,542.2 147.7,539.9 149.2,537.6 150.7,535.4 152.2,533.1 153.7,530.8 155.2,528.5 156.8,526.2 158.3,524.0 159.8,521.8 161.3,519.6 162.8,517.5 164.3,515.4 165.8,513.3 167.3,511.3 168.8,509.3 170.3,507.3 171.8,505.4 173.3,503.6 174.8,501.8 176.3,500.0 177.8,498.3 179.3,496.7 180.8,495.0 182.3,493.5 183.8,492.0 185.3,490.5 186.8,489.1 188.3,487.7 189.8,486.4 191.3,485.1 192.8,483.9 194.3,482.7 195.8,481.5 197.3,480.4 198.8,479.4 200.3,478.3 201.8,477.3 203.4,476.4 204.9,475.5 206.4,474.6 207.9,473.7 209.4,472.9 210.9,472.1 212.4,471.4 213.9,470.7 215.4,470.0 216.9,469.3 218.4,468.7 219.9,468.1 221.4,467.5 222.9,466.9 224.4,466.4 225.9,465.8 227.4,465.3 228.9,464.9 230.4,464.4 231.9,464.0 233.4,463.5 234.9,463.1 236.4,462.8 237.9,462.4 239.4,462.0 240.9,461.7 242.4,461.4 243.9,461.1 245.4,460.8 246.9,460.5 248.5,460.2 250.0,459.9 251.5,459.7 253.0,459.4 254.5,459.2 256.0,459.0 257.5,458.8 259.0,458.6 260.5,458.4 262.0,458.2" fill="none" stroke="#2d0f3e" stroke-width="2.3" stroke-linejoin="round" stroke-linecap="butt" />
<polyline points="83.1,574.7 84.6,574.7 86.1,574.7 87.6,574.7 89.1,574.7 90.6,574.7 92.0,574.7 93.5,574.7 95.0,574.7 96.5,574.6 98.0,574.6 99.5,574.6 101.0,574.6 102.5,574.6 104.0,574.5 105.5,574.4 107.0,574.4 108.5,574.2 109.9,574.1 111.4,573.9 112.9,573.6 114.4,573.2 115.9,572.8 117.4,572.3 118.9,571.7 120.4,571.0 121.9,570.2 123.4,569.3 124.9,568.3 126.4,567.1 127.9,565.9 129.3,564.6 130.8,563.2 132.3,561.7 133.8,560.1 135.3,558.4 136.8,556.7 138.3,554.9 139.8,553.0 141.3,551.1 142.8,549.1 144.3,547.1 145.8,545.0 147.2,543.0 148.7,540.9 150.2,538.8 151.7,536.6 153.2,534.5 154.7,532.4 156.2,530.3 157.7,528.2 159.2,526.1 160.7,524.0 162.2,521.9 163.7,519.9 165.2,517.9 166.6,515.9 168.1,513.9 169.6,512.0 171.1,510.1 172.6,508.2 174.1,506.4 175.6,504.6 177.1,502.9 178.6,501.2 180.1,499.5 181.6,497.9 183.1,496.3 184.5,494.8 186.0,493.3 187.5,491.8 189.0,490.4 190.5,489.0 192.0,487.7 193.5,486.4 195.0,485.1 196.5,483.9 198.0,482.8 199.5,481.6 201.0,480.5 202.5,479.5 203.9,478.5 205.4,477.5 206.9,476.5 208.4,475.6 209.9,474.8 211.4,473.9 212.9,473.1 214.4,472.3 215.9,471.6 217.4,470.9 218.9,470.2 220.4,469.5 221.8,468.9 223.3,468.3 224.8,467.7 226.3,467.1 227.8,466.6 229.3,466.1 230.8,465.6 232.3,465.1 233.8,464.7 235.3,464.2 236.8,463.8 238.3,463.4 239.8,463.1 241.2,462.7 242.7,462.4 244.2,462.0 245.7,461.7 247.2,461.4 248.7,461.1 250.2,460.9 251.7,460.6 253.2,460.4 254.7,460.1 256.2,459.9 257.7,459.7 259.1,459.5 260.6,459.3" fill="none" stroke="#2ab4e8" stroke-width="2.3" stroke-linejoin="round" stroke-linecap="butt" />
<polyline points="83.1,574.2 84.6,574.2 86.1,574.2 87.5,574.2 89.0,574.2 90.5,574.1 92.0,574.1 93.5,574.1 94.9,574.1 96.4,574.0 97.9,574.0 99.4,574.0 100.9,573.9 102.3,573.9 103.8,573.8 105.3,573.7 106.8,573.6 108.3,573.5 109.7,573.3 111.2,573.1 112.7,572.9 114.2,572.5 115.7,572.2 117.1,571.7 118.6,571.2 120.1,570.6 121.6,569.9 123.1,569.1 124.6,568.2 126.0,567.3 127.5,566.2 129.0,565.1 130.5,563.9 132.0,562.6 133.4,561.2 134.9,559.8 136.4,558.2 137.9,556.7 139.4,555.0 140.8,553.4 142.3,551.6 143.8,549.8 145.3,548.0 146.8,546.2 148.2,544.3 149.7,542.4 151.2,540.5 152.7,538.5 154.2,536.6 155.6,534.6 157.1,532.7 158.6,530.7 160.1,528.7 161.6,526.8 163.1,524.8 164.5,522.9 166.0,521.0 167.5,519.0 169.0,517.2 170.5,515.3 171.9,513.4 173.4,511.6 174.9,509.8 176.4,508.0 177.9,506.3 179.3,504.5 180.8,502.9 182.3,501.2 183.8,499.6 185.3,498.0 186.7,496.4 188.2,494.9 189.7,493.5 191.2,492.0 192.7,490.6 194.1,489.2 195.6,487.9 197.1,486.6 198.6,485.4 200.1,484.2 201.6,483.0 203.0,481.9 204.5,480.8 206.0,479.7 207.5,478.7 209.0,477.8 210.4,476.8 211.9,475.9 213.4,475.0 214.9,474.2 216.4,473.4 217.8,472.6 219.3,471.9 220.8,471.2 222.3,470.5 223.8,469.8 225.2,469.2 226.7,468.6 228.2,468.0 229.7,467.5 231.2,466.9 232.6,466.4 234.1,466.0 235.6,465.5 237.1,465.1 238.6,464.6 240.1,464.3 241.5,463.9 243.0,463.5 244.5,463.2 246.0,462.8 247.5,462.5 248.9,462.2 250.4,461.9 251.9,461.7 253.4,461.4 254.9,461.1 256.3,460.9 257.8,460.7 259.3,460.5" fill="none" stroke="#9cf23a" stroke-width="2.3" stroke-linejoin="round" stroke-linecap="butt" />
<polyline points="83.1,573.3 84.6,573.3 86.0,573.2 87.5,573.2 89.0,573.2 90.4,573.1 91.9,573.1 93.4,573.0 94.8,573.0 96.3,572.9 97.8,572.9 99.3,572.8 100.7,572.7 102.2,572.6 103.7,572.5 105.1,572.4 106.6,572.3 108.1,572.2 109.5,572.0 111.0,571.8 112.5,571.5 113.9,571.3 115.4,570.9 116.9,570.6 118.4,570.2 119.8,569.7 121.3,569.2 122.8,568.6 124.2,567.9 125.7,567.2 127.2,566.4 128.6,565.6 130.1,564.7 131.6,563.7 133.1,562.7 134.5,561.6 136.0,560.5 137.5,559.3 138.9,558.1 140.4,556.8 141.9,555.4 143.3,554.0 144.8,552.6 146.3,551.1 147.7,549.6 149.2,548.1 150.7,546.5 152.2,544.9 153.6,543.2 155.1,541.6 156.6,539.9 158.0,538.1 159.5,536.4 161.0,534.6 162.4,532.8 163.9,531.0 165.4,529.2 166.9,527.4 168.3,525.6 169.8,523.8 171.3,521.9 172.7,520.1 174.2,518.3 175.7,516.5 177.1,514.7 178.6,512.9 180.1,511.1 181.5,509.3 183.0,507.6 184.5,505.9 186.0,504.2 187.4,502.5 188.9,500.9 190.4,499.3 191.8,497.7 193.3,496.1 194.8,494.6 196.2,493.2 197.7,491.7 199.2,490.3 200.6,489.0 202.1,487.7 203.6,486.4 205.1,485.1 206.5,484.0 208.0,482.8 209.5,481.7 210.9,480.6 212.4,479.6 213.9,478.6 215.3,477.6 216.8,476.7 218.3,475.8 219.8,475.0 221.2,474.2 222.7,473.4 224.2,472.6 225.6,471.9 227.1,471.3 228.6,470.6 230.0,470.0 231.5,469.4 233.0,468.8 234.4,468.3 235.9,467.8 237.4,467.3 238.9,466.8 240.3,466.4 241.8,466.0 243.3,465.6 244.7,465.2 246.2,464.8 247.7,464.5 249.1,464.1 250.6,463.8 252.1,463.5 253.6,463.3 255.0,463.0 256.5,462.7 258.0,462.5" fill="none" stroke="#ff8020" stroke-width="2.3" stroke-linejoin="round" stroke-linecap="butt" />
<polyline points="83.1,572.1 84.5,572.1 86.0,572.0 87.5,572.0 88.9,571.9 90.4,571.9 91.8,571.8 93.3,571.7 94.8,571.6 96.2,571.5 97.7,571.4 99.1,571.3 100.6,571.2 102.0,571.1 103.5,570.9 105.0,570.8 106.4,570.6 107.9,570.5 109.3,570.3 110.8,570.1 112.3,569.9 113.7,569.6 115.2,569.4 116.6,569.1 118.1,568.8 119.5,568.5 121.0,568.1 122.5,567.8 123.9,567.4 125.4,566.9 126.8,566.5 128.3,566.0 129.8,565.5 131.2,564.9 132.7,564.3 134.1,563.7 135.6,563.0 137.0,562.3 138.5,561.5 140.0,560.7 141.4,559.9 142.9,559.0 144.3,558.0 145.8,557.0 147.3,556.0 148.7,554.9 150.2,553.7 151.6,552.5 153.1,551.3 154.5,549.9 156.0,548.6 157.5,547.2 158.9,545.7 160.4,544.2 161.8,542.6 163.3,541.1 164.8,539.4 166.2,537.7 167.7,536.0 169.1,534.3 170.6,532.5 172.0,530.7 173.5,528.9 175.0,527.0 176.4,525.2 177.9,523.3 179.3,521.4 180.8,519.5 182.2,517.6 183.7,515.8 185.2,513.9 186.6,512.1 188.1,510.2 189.5,508.4 191.0,506.6 192.5,504.9 193.9,503.1 195.4,501.5 196.8,499.8 198.3,498.2 199.7,496.6 201.2,495.0 202.7,493.5 204.1,492.1 205.6,490.6 207.0,489.3 208.5,487.9 210.0,486.7 211.4,485.4 212.9,484.2 214.3,483.1 215.8,482.0 217.2,480.9 218.7,479.9 220.2,478.9 221.6,478.0 223.1,477.1 224.5,476.2 226.0,475.4 227.5,474.6 228.9,473.9 230.4,473.2 231.8,472.5 233.3,471.9 234.7,471.2 236.2,470.7 237.7,470.1 239.1,469.6 240.6,469.1 242.0,468.6 243.5,468.2 245.0,467.7 246.4,467.3 247.9,467.0 249.3,466.6 250.8,466.3 252.2,465.9 253.7,465.6 255.2,465.3 256.6,465.1" fill="none" stroke="#e3161c" stroke-width="2.3" stroke-linejoin="round" stroke-linecap="butt" />
<line x1="366.40" y1="263.3" x2="366.40" y2="397.4" stroke="#e4e4e4" stroke-width="0.8"/>
<line x1="399.15" y1="263.3" x2="399.15" y2="397.4" stroke="#e4e4e4" stroke-width="0.8"/>
<line x1="431.90" y1="263.3" x2="431.90" y2="397.4" stroke="#e4e4e4" stroke-width="0.8"/>
<line x1="464.65" y1="263.3" x2="464.65" y2="397.4" stroke="#e4e4e4" stroke-width="0.8"/>
<line x1="497.40" y1="263.3" x2="497.40" y2="397.4" stroke="#e4e4e4" stroke-width="0.8"/>
<line x1="330.7" y1="353.12" x2="508.7" y2="353.12" stroke="#e4e4e4" stroke-width="0.8"/>
<line x1="330.7" y1="308.26" x2="508.7" y2="308.26" stroke="#e4e4e4" stroke-width="0.8"/>
<line x1="330.7" y1="263.40" x2="508.7" y2="263.40" stroke="#e4e4e4" stroke-width="0.8"/>
<line x1="330.7" y1="263.3" x2="330.7" y2="398.5" stroke="#000" stroke-width="2.2"/>
<line x1="329.59999999999997" y1="397.4" x2="508.7" y2="397.4" stroke="#000" stroke-width="2.2"/>
<line x1="330.7" y1="397.98" x2="334.2" y2="397.98" stroke="#000" stroke-width="1.6"/>
<text class="tk" x="0" y="0" font-size="10.3" font-weight="bold" fill="#111" transform="translate(311.20,402.68) scale(0.92,1)">10<tspan font-size="6.4" dy="-4.4">-2</tspan></text>
<line x1="330.7" y1="353.12" x2="334.2" y2="353.12" stroke="#000" stroke-width="1.6"/>
<text class="tk" x="0" y="0" font-size="10.3" font-weight="bold" fill="#111" transform="translate(311.20,357.82) scale(0.92,1)">10<tspan font-size="6.4" dy="-4.4">0</tspan></text>
<line x1="330.7" y1="308.26" x2="334.2" y2="308.26" stroke="#000" stroke-width="1.6"/>
<text class="tk" x="0" y="0" font-size="10.3" font-weight="bold" fill="#111" transform="translate(311.20,312.96) scale(0.92,1)">10<tspan font-size="6.4" dy="-4.4">2</tspan></text>
<line x1="330.7" y1="263.40" x2="334.2" y2="263.40" stroke="#000" stroke-width="1.6"/>
<text class="tk" x="0" y="0" font-size="10.3" font-weight="bold" fill="#111" transform="translate(311.20,268.10) scale(0.92,1)">10<tspan font-size="6.4" dy="-4.4">4</tspan></text>
<line x1="330.7" y1="391.23" x2="332.5" y2="391.23" stroke="#000" stroke-width="0.7"/>
<line x1="330.7" y1="387.28" x2="332.5" y2="387.28" stroke="#000" stroke-width="0.7"/>
<line x1="330.7" y1="384.48" x2="332.5" y2="384.48" stroke="#000" stroke-width="0.7"/>
<line x1="330.7" y1="382.30" x2="332.5" y2="382.30" stroke="#000" stroke-width="0.7"/>
<line x1="330.7" y1="380.53" x2="332.5" y2="380.53" stroke="#000" stroke-width="0.7"/>
<line x1="330.7" y1="379.02" x2="332.5" y2="379.02" stroke="#000" stroke-width="0.7"/>
<line x1="330.7" y1="377.72" x2="332.5" y2="377.72" stroke="#000" stroke-width="0.7"/>
<line x1="330.7" y1="376.58" x2="332.5" y2="376.58" stroke="#000" stroke-width="0.7"/>
<line x1="330.7" y1="368.80" x2="332.5" y2="368.80" stroke="#000" stroke-width="0.7"/>
<line x1="330.7" y1="364.85" x2="332.5" y2="364.85" stroke="#000" stroke-width="0.7"/>
<line x1="330.7" y1="362.05" x2="332.5" y2="362.05" stroke="#000" stroke-width="0.7"/>
<line x1="330.7" y1="359.87" x2="332.5" y2="359.87" stroke="#000" stroke-width="0.7"/>
<line x1="330.7" y1="358.10" x2="332.5" y2="358.10" stroke="#000" stroke-width="0.7"/>
<line x1="330.7" y1="356.59" x2="332.5" y2="356.59" stroke="#000" stroke-width="0.7"/>
<line x1="330.7" y1="355.29" x2="332.5" y2="355.29" stroke="#000" stroke-width="0.7"/>
<line x1="330.7" y1="354.15" x2="332.5" y2="354.15" stroke="#000" stroke-width="0.7"/>
<line x1="330.7" y1="346.37" x2="332.5" y2="346.37" stroke="#000" stroke-width="0.7"/>
<line x1="330.7" y1="342.42" x2="332.5" y2="342.42" stroke="#000" stroke-width="0.7"/>
<line x1="330.7" y1="339.62" x2="332.5" y2="339.62" stroke="#000" stroke-width="0.7"/>
<line x1="330.7" y1="337.44" x2="332.5" y2="337.44" stroke="#000" stroke-width="0.7"/>
<line x1="330.7" y1="335.67" x2="332.5" y2="335.67" stroke="#000" stroke-width="0.7"/>
<line x1="330.7" y1="334.16" x2="332.5" y2="334.16" stroke="#000" stroke-width="0.7"/>
<line x1="330.7" y1="332.86" x2="332.5" y2="332.86" stroke="#000" stroke-width="0.7"/>
<line x1="330.7" y1="331.72" x2="332.5" y2="331.72" stroke="#000" stroke-width="0.7"/>
<line x1="330.7" y1="323.94" x2="332.5" y2="323.94" stroke="#000" stroke-width="0.7"/>
<line x1="330.7" y1="319.99" x2="332.5" y2="319.99" stroke="#000" stroke-width="0.7"/>
<line x1="330.7" y1="317.19" x2="332.5" y2="317.19" stroke="#000" stroke-width="0.7"/>
<line x1="330.7" y1="315.01" x2="332.5" y2="315.01" stroke="#000" stroke-width="0.7"/>
<line x1="330.7" y1="313.24" x2="332.5" y2="313.24" stroke="#000" stroke-width="0.7"/>
<line x1="330.7" y1="311.73" x2="332.5" y2="311.73" stroke="#000" stroke-width="0.7"/>
<line x1="330.7" y1="310.43" x2="332.5" y2="310.43" stroke="#000" stroke-width="0.7"/>
<line x1="330.7" y1="309.29" x2="332.5" y2="309.29" stroke="#000" stroke-width="0.7"/>
<line x1="330.7" y1="301.51" x2="332.5" y2="301.51" stroke="#000" stroke-width="0.7"/>
<line x1="330.7" y1="297.56" x2="332.5" y2="297.56" stroke="#000" stroke-width="0.7"/>
<line x1="330.7" y1="294.76" x2="332.5" y2="294.76" stroke="#000" stroke-width="0.7"/>
<line x1="330.7" y1="292.58" x2="332.5" y2="292.58" stroke="#000" stroke-width="0.7"/>
<line x1="330.7" y1="290.81" x2="332.5" y2="290.81" stroke="#000" stroke-width="0.7"/>
<line x1="330.7" y1="289.30" x2="332.5" y2="289.30" stroke="#000" stroke-width="0.7"/>
<line x1="330.7" y1="288.00" x2="332.5" y2="288.00" stroke="#000" stroke-width="0.7"/>
<line x1="330.7" y1="286.86" x2="332.5" y2="286.86" stroke="#000" stroke-width="0.7"/>
<line x1="330.7" y1="279.08" x2="332.5" y2="279.08" stroke="#000" stroke-width="0.7"/>
<line x1="330.7" y1="275.13" x2="332.5" y2="275.13" stroke="#000" stroke-width="0.7"/>
<line x1="330.7" y1="272.33" x2="332.5" y2="272.33" stroke="#000" stroke-width="0.7"/>
<line x1="330.7" y1="270.15" x2="332.5" y2="270.15" stroke="#000" stroke-width="0.7"/>
<line x1="330.7" y1="268.38" x2="332.5" y2="268.38" stroke="#000" stroke-width="0.7"/>
<line x1="330.7" y1="266.87" x2="332.5" y2="266.87" stroke="#000" stroke-width="0.7"/>
<line x1="330.7" y1="265.57" x2="332.5" y2="265.57" stroke="#000" stroke-width="0.7"/>
<line x1="330.7" y1="264.43" x2="332.5" y2="264.43" stroke="#000" stroke-width="0.7"/>
<line x1="333.65" y1="397.4" x2="333.65" y2="393.9" stroke="#000" stroke-width="1.6"/>
<text class="tk" x="0" y="0" font-size="10.2" text-anchor="middle" font-weight="bold" fill="#111" transform="translate(333.65,410.10) scale(0.92,1)">-0.5</text>
<line x1="366.40" y1="397.4" x2="366.40" y2="393.9" stroke="#000" stroke-width="1.6"/>
<text class="tk" x="0" y="0" font-size="10.2" text-anchor="middle" font-weight="bold" fill="#111" transform="translate(366.40,410.10) scale(0.92,1)">0</text>
<line x1="399.15" y1="397.4" x2="399.15" y2="393.9" stroke="#000" stroke-width="1.6"/>
<text class="tk" x="0" y="0" font-size="10.2" text-anchor="middle" font-weight="bold" fill="#111" transform="translate(399.15,410.10) scale(0.92,1)">0.5</text>
<line x1="431.90" y1="397.4" x2="431.90" y2="393.9" stroke="#000" stroke-width="1.6"/>
<text class="tk" x="0" y="0" font-size="10.2" text-anchor="middle" font-weight="bold" fill="#111" transform="translate(431.90,410.10) scale(0.92,1)">1</text>
<line x1="464.65" y1="397.4" x2="464.65" y2="393.9" stroke="#000" stroke-width="1.6"/>
<text class="tk" x="0" y="0" font-size="10.2" text-anchor="middle" font-weight="bold" fill="#111" transform="translate(464.65,410.10) scale(0.92,1)">1.5</text>
<line x1="497.40" y1="397.4" x2="497.40" y2="393.9" stroke="#000" stroke-width="1.6"/>
<text class="tk" x="0" y="0" font-size="10.2" text-anchor="middle" font-weight="bold" fill="#111" transform="translate(497.40,410.10) scale(0.92,1)">2</text>
<text x="412.3" y="422.8" font-size="10.7" text-anchor="middle" font-weight="bold" fill="#111" >Time relative to the peak of the TPSF (ns)</text>
<text x="0" y="0" font-size="10.7" font-weight="bold" class="rot" fill="#111" text-anchor="middle" transform="translate(302.6,332.5) rotate(-90)">CoV @ 10 Hz</text>
<text x="290.0" y="262.7" font-size="11.6" text-anchor="start" font-weight="bold" fill="#111" >(d)</text>
<polyline points="336.0,293.3 343.1,296.9 346.0,330.0 349.3,353.8 355.9,380.3 355.9,380.4 356.9,380.6 357.9,380.9 358.9,381.2 359.9,381.5 360.9,381.9 361.9,382.2 362.9,382.5 363.9,382.8 364.9,383.1 365.9,383.4 366.9,383.6 367.9,383.7 368.9,383.7 369.9,383.8 370.9,383.8 371.9,383.8 372.9,383.9 373.9,383.9 374.9,384.0 375.9,384.0 376.9,384.1 377.9,384.1 378.9,384.1 379.9,384.1 380.9,384.0 381.9,383.9 382.9,383.8 383.9,383.7 384.9,383.6 385.9,383.4 386.9,383.3 387.9,383.2 388.9,383.1 389.9,382.9 390.9,382.6 391.9,382.2 392.9,381.7 393.9,381.3 394.9,380.9 395.9,380.4 396.9,380.0 397.9,379.5 398.9,379.1 399.9,378.6 400.9,378.2 401.9,377.6 402.9,377.0 403.9,376.3 404.9,375.6 405.9,374.8 406.9,374.0 407.9,373.3 408.9,372.5 409.9,371.8 410.9,371.0 411.9,370.3 412.9,369.5 413.9,368.7 414.9,368.0 415.9,367.2 416.9,366.5 417.9,365.7 418.9,365.0 419.9,364.2 420.9,363.4 421.9,362.7 422.9,361.9 423.9,361.2 424.9,360.4 425.9,359.7 426.9,358.9 427.9,358.1 428.9,357.4 429.9,356.6 430.9,355.9 431.9,355.1 432.9,354.3 433.9,353.6 434.9,352.8 435.9,352.1 436.9,351.3 437.9,350.6 438.9,349.8 439.9,349.1 440.9,348.3 441.9,347.6 442.9,346.9 443.9,346.2 444.9,345.4 445.9,344.7 446.9,344.0 447.9,343.3 448.9,342.5 449.9,341.8 450.9,341.1 451.9,340.4 452.9,339.7 453.9,338.9 454.9,338.2 455.9,337.5 456.9,336.8 457.9,336.0 458.9,335.3 459.9,334.6 460.9,333.9 461.9,333.1 462.9,332.4 463.9,331.7 464.9,331.0 465.9,330.2 466.9,329.5 467.9,328.8 468.9,328.1 469.9,327.4 470.9,326.6 471.9,325.9 472.9,325.2 473.9,324.5 474.9,323.7 475.9,323.0 476.9,322.3 477.9,321.6 478.9,320.8 479.9,320.1 480.9,319.4 481.9,318.7 482.9,318.0 483.9,317.2 484.9,316.5 485.9,315.8 486.9,315.1 487.9,314.3 488.9,313.6 489.9,312.9 490.9,312.2 491.9,311.4 492.9,310.7 493.9,310.0 494.9,309.3 495.9,308.5 496.9,307.8 497.9,307.2 498.9,306.8 499.9,306.5 500.9,306.2 501.9,305.8 502.9,305.5 503.9,305.2 504.9,304.9 505.9,304.7" fill="none" stroke="#2d0f3e" stroke-width="2.5" stroke-linejoin="round" stroke-linecap="butt" />
<polyline points="335.2,368.9 336.2,369.1 337.2,369.4 338.2,369.7 339.2,370.1 340.2,370.6 341.2,371.3 342.2,372.2 343.2,373.4 344.2,374.9 345.2,376.5 346.2,378.1 347.2,379.5 348.2,380.6 349.2,381.1 350.2,381.3 351.2,381.5 352.2,381.6 353.2,381.8 354.2,382.0 355.2,382.1 356.2,382.3 357.2,382.5 358.2,382.6 359.2,382.8 360.2,382.9 361.2,383.0 362.2,383.1 363.2,383.1 364.2,383.2 365.2,383.3 366.2,383.3 367.2,383.4 368.2,383.4 369.2,383.5 370.2,383.6 371.2,383.6 372.2,383.7 373.2,383.8 374.2,383.8 375.2,383.9 376.2,384.0 377.2,384.0 378.2,384.1 379.2,384.1 380.2,384.2 381.2,384.1 382.2,384.1 383.2,384.1 384.2,384.0 385.2,384.0 386.2,384.0 387.2,383.9 388.2,383.9 389.2,383.8 390.2,383.8 391.2,383.8 392.2,383.7 393.2,383.7 394.2,383.6 395.2,383.5 396.2,383.3 397.2,382.9 398.2,382.4 399.2,382.0 400.2,381.5 401.2,381.1 402.2,380.6 403.2,380.2 404.2,379.7 405.2,379.3 406.2,378.9 407.2,378.4 408.2,378.0 409.2,377.5 410.2,377.0 411.2,376.5 412.2,375.8 413.2,375.2 414.2,374.4 415.2,373.7 416.2,373.0 417.2,372.3 418.2,371.6 419.2,370.9 420.2,370.2 421.2,369.5 422.2,368.8 423.2,368.1 424.2,367.4 425.2,366.7 426.2,366.0 427.2,365.3 428.2,364.6 429.2,363.9 430.2,363.2 431.2,362.5 432.2,361.8 433.2,361.1 434.2,360.4 435.2,359.7 436.2,359.0 437.2,358.3 438.2,357.6 439.2,356.8 440.2,356.1 441.2,355.4 442.2,354.7 443.2,354.0 444.2,353.3 445.2,352.6 446.2,351.8 447.2,351.1 448.2,350.4 449.2,349.7 450.2,349.0 451.2,348.3 452.2,347.5 453.2,346.8 454.2,346.1 455.2,345.4 456.2,344.7 457.2,344.0 458.2,343.2 459.2,342.5 460.2,341.8 461.2,341.1 462.2,340.4 463.2,339.7 464.2,338.9 465.2,338.2 466.2,337.5 467.2,336.8 468.2,336.1 469.2,335.4 470.2,334.6 471.2,333.9 472.2,333.2 473.2,332.5 474.2,331.8 475.2,331.1 476.2,330.3 477.2,329.6 478.2,328.9 479.2,328.2 480.2,327.5 481.2,326.8 482.2,326.0 483.2,325.3 484.2,324.6 485.2,323.9 486.2,323.2 487.2,322.5 488.2,321.8 489.2,321.0 490.2,320.3 491.2,319.6 492.2,318.9 493.2,318.2 494.2,317.5 495.2,316.7 496.2,316.0 497.2,315.4 498.2,314.8 499.2,314.5 500.2,314.2 501.2,313.9 502.2,313.7 503.2,313.4 504.2,313.2" fill="none" stroke="#2ab4e8" stroke-width="2.5" stroke-linejoin="round" stroke-linecap="butt" />
<polyline points="332.2,380.7 333.2,380.7 334.2,380.7 335.2,380.6 336.2,380.6 337.2,380.5 338.2,380.5 339.2,380.5 340.2,380.5 341.2,380.5 342.2,380.6 343.2,380.7 344.2,380.8 345.2,381.0 346.2,381.1 347.2,381.2 348.2,381.3 349.2,381.4 350.2,381.6 351.2,381.7 352.2,381.8 353.2,381.9 354.2,382.1 355.2,382.2 356.2,382.3 357.2,382.4 358.2,382.6 359.2,382.7 360.2,382.8 361.2,382.9 362.2,383.1 363.2,383.2 364.2,383.3 365.2,383.4 366.2,383.5 367.2,383.6 368.2,383.7 369.2,383.8 370.2,383.9 371.2,384.0 372.2,384.0 373.2,384.1 374.2,384.2 375.2,384.3 376.2,384.3 377.2,384.4 378.2,384.5 379.2,384.6 380.2,384.6 381.2,384.7 382.2,384.8 383.2,384.9 384.2,384.9 385.2,385.0 386.2,385.1 387.2,385.2 388.2,385.2 389.2,385.3 390.2,385.3 391.2,385.4 392.2,385.4 393.2,385.3 394.2,385.2 395.2,385.1 396.2,384.9 397.2,384.7 398.2,384.5 399.2,384.3 400.2,384.1 401.2,383.9 402.2,383.7 403.2,383.4 404.2,383.2 405.2,382.8 406.2,382.4 407.2,382.0 408.2,381.4 409.2,380.9 410.2,380.3 411.2,379.6 412.2,379.0 413.2,378.4 414.2,377.7 415.2,377.1 416.2,376.5 417.2,375.8 418.2,375.2 419.2,374.6 420.2,373.9 421.2,373.3 422.2,372.6 423.2,372.0 424.2,371.4 425.2,370.7 426.2,370.1 427.2,369.5 428.2,368.8 429.2,368.2 430.2,367.6 431.2,366.9 432.2,366.3 433.2,365.6 434.2,365.0 435.2,364.4 436.2,363.7 437.2,363.1 438.2,362.4 439.2,361.7 440.2,361.1 441.2,360.4 442.2,359.6 443.2,358.9 444.2,358.2 445.2,357.4 446.2,356.7 447.2,356.0 448.2,355.2 449.2,354.5 450.2,353.8 451.2,353.0 452.2,352.3 453.2,351.6 454.2,350.8 455.2,350.1 456.2,349.3 457.2,348.6 458.2,347.9 459.2,347.1 460.2,346.4 461.2,345.7 462.2,344.9 463.2,344.2 464.2,343.4 465.2,342.7 466.2,342.0 467.2,341.2 468.2,340.5 469.2,339.8 470.2,339.0 471.2,338.3 472.2,337.6 473.2,336.8 474.2,336.1 475.2,335.3 476.2,334.6 477.2,333.9 478.2,333.1 479.2,332.4 480.2,331.7 481.2,330.9 482.2,330.2 483.2,329.4 484.2,328.7 485.2,328.0 486.2,327.2 487.2,326.5 488.2,325.8 489.2,325.0 490.2,324.3 491.2,323.6 492.2,322.8 493.2,322.1 494.2,321.5 495.2,320.8 496.2,320.3 497.2,319.9 498.2,319.5 499.2,319.2 500.2,319.0 501.2,318.8 502.2,318.7 503.2,318.6" fill="none" stroke="#9cf23a" stroke-width="2.5" stroke-linejoin="round" stroke-linecap="butt" />
<polyline points="332.2,382.5 333.2,382.5 334.2,382.5 335.2,382.4 336.2,382.4 337.2,382.4 338.2,382.4 339.2,382.3 340.2,382.4 341.2,382.4 342.2,382.4 343.2,382.5 344.2,382.5 345.2,382.6 346.2,382.7 347.2,382.7 348.2,382.8 349.2,382.9 350.2,383.0 351.2,383.0 352.2,383.1 353.2,383.2 354.2,383.3 355.2,383.3 356.2,383.4 357.2,383.5 358.2,383.6 359.2,383.7 360.2,383.7 361.2,383.8 362.2,383.9 363.2,384.0 364.2,384.0 365.2,384.1 366.2,384.2 367.2,384.3 368.2,384.3 369.2,384.4 370.2,384.5 371.2,384.6 372.2,384.6 373.2,384.7 374.2,384.8 375.2,384.9 376.2,384.9 377.2,385.0 378.2,385.1 379.2,385.2 380.2,385.2 381.2,385.3 382.2,385.4 383.2,385.5 384.2,385.5 385.2,385.6 386.2,385.7 387.2,385.8 388.2,385.8 389.2,385.9 390.2,385.9 391.2,386.0 392.2,386.0 393.2,386.0 394.2,385.9 395.2,385.9 396.2,385.8 397.2,385.7 398.2,385.6 399.2,385.5 400.2,385.3 401.2,385.2 402.2,385.1 403.2,385.0 404.2,384.9 405.2,384.7 406.2,384.6 407.2,384.4 408.2,384.2 409.2,383.9 410.2,383.6 411.2,383.2 412.2,382.8 413.2,382.3 414.2,381.8 415.2,381.2 416.2,380.6 417.2,380.1 418.2,379.5 419.2,378.9 420.2,378.3 421.2,377.8 422.2,377.2 423.2,376.6 424.2,376.0 425.2,375.4 426.2,374.8 427.2,374.3 428.2,373.7 429.2,373.1 430.2,372.5 431.2,371.9 432.2,371.4 433.2,370.8 434.2,370.2 435.2,369.6 436.2,369.0 437.2,368.4 438.2,367.8 439.2,367.1 440.2,366.5 441.2,365.8 442.2,365.1 443.2,364.4 444.2,363.7 445.2,363.0 446.2,362.3 447.2,361.5 448.2,360.8 449.2,360.1 450.2,359.4 451.2,358.6 452.2,357.9 453.2,357.2 454.2,356.4 455.2,355.7 456.2,355.0 457.2,354.3 458.2,353.5 459.2,352.8 460.2,352.1 461.2,351.3 462.2,350.6 463.2,349.9 464.2,349.2 465.2,348.4 466.2,347.7 467.2,347.0 468.2,346.3 469.2,345.5 470.2,344.8 471.2,344.1 472.2,343.3 473.2,342.6 474.2,341.9 475.2,341.2 476.2,340.4 477.2,339.7 478.2,339.0 479.2,338.2 480.2,337.5 481.2,336.8 482.2,336.1 483.2,335.3 484.2,334.6 485.2,333.9 486.2,333.1 487.2,332.4 488.2,331.7 489.2,331.0 490.2,330.2 491.2,329.5 492.2,328.8 493.2,328.1 494.2,327.5 495.2,326.9 496.2,326.4 497.2,325.9 498.2,325.5 499.2,325.2 500.2,325.0 501.2,324.8 502.2,324.6" fill="none" stroke="#ff8020" stroke-width="2.5" stroke-linejoin="round" stroke-linecap="butt" />
<polyline points="332.2,383.4 333.2,383.4 334.2,383.4 335.2,383.4 336.2,383.5 337.2,383.5 338.2,383.5 339.2,383.6 340.2,383.6 341.2,383.6 342.2,383.7 343.2,383.7 344.2,383.7 345.2,383.8 346.2,383.8 347.2,383.8 348.2,383.9 349.2,383.9 350.2,383.9 351.2,384.0 352.2,384.0 353.2,384.0 354.2,384.1 355.2,384.1 356.2,384.2 357.2,384.2 358.2,384.2 359.2,384.3 360.2,384.3 361.2,384.3 362.2,384.4 363.2,384.4 364.2,384.4 365.2,384.5 366.2,384.5 367.2,384.6 368.2,384.6 369.2,384.6 370.2,384.7 371.2,384.7 372.2,384.8 373.2,384.8 374.2,384.9 375.2,384.9 376.2,385.0 377.2,385.1 378.2,385.1 379.2,385.2 380.2,385.2 381.2,385.3 382.2,385.3 383.2,385.4 384.2,385.4 385.2,385.5 386.2,385.5 387.2,385.6 388.2,385.6 389.2,385.7 390.2,385.7 391.2,385.8 392.2,385.8 393.2,385.9 394.2,385.9 395.2,386.0 396.2,386.0 397.2,386.0 398.2,386.0 399.2,386.0 400.2,386.0 401.2,385.9 402.2,385.9 403.2,385.8 404.2,385.8 405.2,385.7 406.2,385.6 407.2,385.5 408.2,385.4 409.2,385.3 410.2,385.1 411.2,385.0 412.2,384.8 413.2,384.5 414.2,384.2 415.2,383.9 416.2,383.5 417.2,383.1 418.2,382.6 419.2,382.1 420.2,381.6 421.2,381.0 422.2,380.5 423.2,380.0 424.2,379.4 425.2,378.9 426.2,378.3 427.2,377.8 428.2,377.2 429.2,376.7 430.2,376.2 431.2,375.6 432.2,375.1 433.2,374.5 434.2,374.0 435.2,373.4 436.2,372.9 437.2,372.3 438.2,371.7 439.2,371.1 440.2,370.5 441.2,369.8 442.2,369.2 443.2,368.5 444.2,367.8 445.2,367.1 446.2,366.4 447.2,365.7 448.2,365.0 449.2,364.3 450.2,363.6 451.2,362.9 452.2,362.2 453.2,361.5 454.2,360.8 455.2,360.1 456.2,359.4 457.2,358.7 458.2,358.0 459.2,357.3 460.2,356.6 461.2,355.9 462.2,355.2 463.2,354.5 464.2,353.8 465.2,353.1 466.2,352.4 467.2,351.7 468.2,351.0 469.2,350.3 470.2,349.6 471.2,348.9 472.2,348.2 473.2,347.5 474.2,346.8 475.2,346.1 476.2,345.4 477.2,344.7 478.2,344.0 479.2,343.3 480.2,342.6 481.2,341.9 482.2,341.2 483.2,340.5 484.2,339.8 485.2,339.1 486.2,338.4 487.2,337.7 488.2,337.0 489.2,336.3 490.2,335.7 491.2,335.0 492.2,334.3 493.2,333.7 494.2,333.2 495.2,332.6 496.2,332.2 497.2,331.8 498.2,331.4 499.2,331.1 500.2,330.9 501.2,330.7" fill="none" stroke="#e3161c" stroke-width="2.5" stroke-linejoin="round" stroke-linecap="butt" />
<line x1="366.40" y1="441.3" x2="366.40" y2="575.4" stroke="#e4e4e4" stroke-width="0.8"/>
<line x1="399.15" y1="441.3" x2="399.15" y2="575.4" stroke="#e4e4e4" stroke-width="0.8"/>
<line x1="431.90" y1="441.3" x2="431.90" y2="575.4" stroke="#e4e4e4" stroke-width="0.8"/>
<line x1="464.65" y1="441.3" x2="464.65" y2="575.4" stroke="#e4e4e4" stroke-width="0.8"/>
<line x1="497.40" y1="441.3" x2="497.40" y2="575.4" stroke="#e4e4e4" stroke-width="0.8"/>
<line x1="330.7" y1="530.72" x2="508.7" y2="530.72" stroke="#e4e4e4" stroke-width="0.8"/>
<line x1="330.7" y1="486.06" x2="508.7" y2="486.06" stroke="#e4e4e4" stroke-width="0.8"/>
<line x1="330.7" y1="441.40" x2="508.7" y2="441.40" stroke="#e4e4e4" stroke-width="0.8"/>
<line x1="330.7" y1="441.3" x2="330.7" y2="576.5" stroke="#000" stroke-width="2.2"/>
<line x1="329.59999999999997" y1="575.4" x2="508.7" y2="575.4" stroke="#000" stroke-width="2.2"/>
<line x1="330.7" y1="575.38" x2="334.2" y2="575.38" stroke="#000" stroke-width="1.6"/>
<text class="tk" x="0" y="0" font-size="10.3" font-weight="bold" fill="#111" transform="translate(311.00,580.08) scale(0.92,1)">10<tspan font-size="6.4" dy="-4.4">-2</tspan></text>
<line x1="330.7" y1="530.72" x2="334.2" y2="530.72" stroke="#000" stroke-width="1.6"/>
<text class="tk" x="0" y="0" font-size="10.3" font-weight="bold" fill="#111" transform="translate(311.00,535.42) scale(0.92,1)">10<tspan font-size="6.4" dy="-4.4">0</tspan></text>
<line x1="330.7" y1="486.06" x2="334.2" y2="486.06" stroke="#000" stroke-width="1.6"/>
<text class="tk" x="0" y="0" font-size="10.3" font-weight="bold" fill="#111" transform="translate(311.00,490.76) scale(0.92,1)">10<tspan font-size="6.4" dy="-4.4">2</tspan></text>
<line x1="330.7" y1="441.40" x2="334.2" y2="441.40" stroke="#000" stroke-width="1.6"/>
<text class="tk" x="0" y="0" font-size="10.3" font-weight="bold" fill="#111" transform="translate(311.00,446.10) scale(0.92,1)">10<tspan font-size="6.4" dy="-4.4">4</tspan></text>
<line x1="330.7" y1="568.66" x2="332.5" y2="568.66" stroke="#000" stroke-width="0.7"/>
<line x1="330.7" y1="564.73" x2="332.5" y2="564.73" stroke="#000" stroke-width="0.7"/>
<line x1="330.7" y1="561.94" x2="332.5" y2="561.94" stroke="#000" stroke-width="0.7"/>
<line x1="330.7" y1="559.77" x2="332.5" y2="559.77" stroke="#000" stroke-width="0.7"/>
<line x1="330.7" y1="558.00" x2="332.5" y2="558.00" stroke="#000" stroke-width="0.7"/>
<line x1="330.7" y1="556.51" x2="332.5" y2="556.51" stroke="#000" stroke-width="0.7"/>
<line x1="330.7" y1="555.21" x2="332.5" y2="555.21" stroke="#000" stroke-width="0.7"/>
<line x1="330.7" y1="554.07" x2="332.5" y2="554.07" stroke="#000" stroke-width="0.7"/>
<line x1="330.7" y1="546.33" x2="332.5" y2="546.33" stroke="#000" stroke-width="0.7"/>
<line x1="330.7" y1="542.40" x2="332.5" y2="542.40" stroke="#000" stroke-width="0.7"/>
<line x1="330.7" y1="539.61" x2="332.5" y2="539.61" stroke="#000" stroke-width="0.7"/>
<line x1="330.7" y1="537.44" x2="332.5" y2="537.44" stroke="#000" stroke-width="0.7"/>
<line x1="330.7" y1="535.67" x2="332.5" y2="535.67" stroke="#000" stroke-width="0.7"/>
<line x1="330.7" y1="534.18" x2="332.5" y2="534.18" stroke="#000" stroke-width="0.7"/>
<line x1="330.7" y1="532.88" x2="332.5" y2="532.88" stroke="#000" stroke-width="0.7"/>
<line x1="330.7" y1="531.74" x2="332.5" y2="531.74" stroke="#000" stroke-width="0.7"/>
<line x1="330.7" y1="524.00" x2="332.5" y2="524.00" stroke="#000" stroke-width="0.7"/>
<line x1="330.7" y1="520.07" x2="332.5" y2="520.07" stroke="#000" stroke-width="0.7"/>
<line x1="330.7" y1="517.28" x2="332.5" y2="517.28" stroke="#000" stroke-width="0.7"/>
<line x1="330.7" y1="515.11" x2="332.5" y2="515.11" stroke="#000" stroke-width="0.7"/>
<line x1="330.7" y1="513.34" x2="332.5" y2="513.34" stroke="#000" stroke-width="0.7"/>
<line x1="330.7" y1="511.85" x2="332.5" y2="511.85" stroke="#000" stroke-width="0.7"/>
<line x1="330.7" y1="510.55" x2="332.5" y2="510.55" stroke="#000" stroke-width="0.7"/>
<line x1="330.7" y1="509.41" x2="332.5" y2="509.41" stroke="#000" stroke-width="0.7"/>
<line x1="330.7" y1="501.67" x2="332.5" y2="501.67" stroke="#000" stroke-width="0.7"/>
<line x1="330.7" y1="497.74" x2="332.5" y2="497.74" stroke="#000" stroke-width="0.7"/>
<line x1="330.7" y1="494.95" x2="332.5" y2="494.95" stroke="#000" stroke-width="0.7"/>
<line x1="330.7" y1="492.78" x2="332.5" y2="492.78" stroke="#000" stroke-width="0.7"/>
<line x1="330.7" y1="491.01" x2="332.5" y2="491.01" stroke="#000" stroke-width="0.7"/>
<line x1="330.7" y1="489.52" x2="332.5" y2="489.52" stroke="#000" stroke-width="0.7"/>
<line x1="330.7" y1="488.22" x2="332.5" y2="488.22" stroke="#000" stroke-width="0.7"/>
<line x1="330.7" y1="487.08" x2="332.5" y2="487.08" stroke="#000" stroke-width="0.7"/>
<line x1="330.7" y1="479.34" x2="332.5" y2="479.34" stroke="#000" stroke-width="0.7"/>
<line x1="330.7" y1="475.41" x2="332.5" y2="475.41" stroke="#000" stroke-width="0.7"/>
<line x1="330.7" y1="472.62" x2="332.5" y2="472.62" stroke="#000" stroke-width="0.7"/>
<line x1="330.7" y1="470.45" x2="332.5" y2="470.45" stroke="#000" stroke-width="0.7"/>
<line x1="330.7" y1="468.68" x2="332.5" y2="468.68" stroke="#000" stroke-width="0.7"/>
<line x1="330.7" y1="467.19" x2="332.5" y2="467.19" stroke="#000" stroke-width="0.7"/>
<line x1="330.7" y1="465.89" x2="332.5" y2="465.89" stroke="#000" stroke-width="0.7"/>
<line x1="330.7" y1="464.75" x2="332.5" y2="464.75" stroke="#000" stroke-width="0.7"/>
<line x1="330.7" y1="457.01" x2="332.5" y2="457.01" stroke="#000" stroke-width="0.7"/>
<line x1="330.7" y1="453.08" x2="332.5" y2="453.08" stroke="#000" stroke-width="0.7"/>
<line x1="330.7" y1="450.29" x2="332.5" y2="450.29" stroke="#000" stroke-width="0.7"/>
<line x1="330.7" y1="448.12" x2="332.5" y2="448.12" stroke="#000" stroke-width="0.7"/>
<line x1="330.7" y1="446.35" x2="332.5" y2="446.35" stroke="#000" stroke-width="0.7"/>
<line x1="330.7" y1="444.86" x2="332.5" y2="444.86" stroke="#000" stroke-width="0.7"/>
<line x1="330.7" y1="443.56" x2="332.5" y2="443.56" stroke="#000" stroke-width="0.7"/>
<line x1="330.7" y1="442.42" x2="332.5" y2="442.42" stroke="#000" stroke-width="0.7"/>
<line x1="333.65" y1="575.4" x2="333.65" y2="571.9" stroke="#000" stroke-width="1.6"/>
<text class="tk" x="0" y="0" font-size="10.2" text-anchor="middle" font-weight="bold" fill="#111" transform="translate(333.65,588.70) scale(0.92,1)">-0.5</text>
<line x1="366.40" y1="575.4" x2="366.40" y2="571.9" stroke="#000" stroke-width="1.6"/>
<text class="tk" x="0" y="0" font-size="10.2" text-anchor="middle" font-weight="bold" fill="#111" transform="translate(366.40,588.70) scale(0.92,1)">0</text>
<line x1="399.15" y1="575.4" x2="399.15" y2="571.9" stroke="#000" stroke-width="1.6"/>
<text class="tk" x="0" y="0" font-size="10.2" text-anchor="middle" font-weight="bold" fill="#111" transform="translate(399.15,588.70) scale(0.92,1)">0.5</text>
<line x1="431.90" y1="575.4" x2="431.90" y2="571.9" stroke="#000" stroke-width="1.6"/>
<text class="tk" x="0" y="0" font-size="10.2" text-anchor="middle" font-weight="bold" fill="#111" transform="translate(431.90,588.70) scale(0.92,1)">1</text>
<line x1="464.65" y1="575.4" x2="464.65" y2="571.9" stroke="#000" stroke-width="1.6"/>
<text class="tk" x="0" y="0" font-size="10.2" text-anchor="middle" font-weight="bold" fill="#111" transform="translate(464.65,588.70) scale(0.92,1)">1.5</text>
<line x1="497.40" y1="575.4" x2="497.40" y2="571.9" stroke="#000" stroke-width="1.6"/>
<text class="tk" x="0" y="0" font-size="10.2" text-anchor="middle" font-weight="bold" fill="#111" transform="translate(497.40,588.70) scale(0.92,1)">2</text>
<text x="412.3" y="600.6" font-size="10.7" text-anchor="middle" font-weight="bold" fill="#111" >Time relative to the peak of the TPSF (ns)</text>
<text x="0" y="0" font-size="10.7" font-weight="bold" class="rot" fill="#111" text-anchor="middle" transform="translate(302.6,510) rotate(-90)">CoV @ 10 Hz</text>
<text x="290.0" y="440.7" font-size="11.6" text-anchor="start" font-weight="bold" fill="#111" >(g)</text>
<polyline points="336.0,445.9 343.1,448.7 347.3,500.0 349.9,519.9 355.3,552.4 355.3,552.8 356.3,553.7 357.3,554.8 358.3,556.0 359.3,557.2 360.3,558.4 361.3,559.4 362.3,560.1 363.3,560.4 364.3,560.6 365.3,560.7 366.3,560.8 367.3,560.9 368.3,560.9 369.3,560.7 370.3,560.4 371.3,560.2 372.3,559.8 373.3,559.5 374.3,559.2 375.3,558.8 376.3,558.4 377.3,557.8 378.3,557.3 379.3,556.8 380.3,556.3 381.3,555.7 382.3,555.2 383.3,554.6 384.3,554.0 385.3,553.2 386.3,552.5 387.3,551.7 388.3,550.9 389.3,550.2 390.3,549.4 391.3,548.6 392.3,547.9 393.3,547.1 394.3,546.3 395.3,545.6 396.3,544.8 397.3,544.0 398.3,543.3 399.3,542.5 400.3,541.7 401.3,541.0 402.3,540.2 403.3,539.4 404.3,538.7 405.3,537.9 406.3,537.1 407.3,536.4 408.3,535.6 409.3,534.8 410.3,534.1 411.3,533.3 412.3,532.5 413.3,531.8 414.3,531.0 415.3,530.2 416.3,529.5 417.3,528.7 418.3,527.9 419.3,527.2 420.3,526.4 421.3,525.6 422.3,524.9 423.3,524.1 424.3,523.3 425.3,522.6 426.3,521.8 427.3,521.0 428.3,520.3 429.3,519.5 430.3,518.7 431.3,518.0 432.3,517.2 433.3,516.4 434.3,515.7 435.3,514.9 436.3,514.1 437.3,513.4 438.3,512.6 439.3,511.8 440.3,511.1 441.3,510.4 442.3,509.7 443.3,509.0 444.3,508.3 445.3,507.6 446.3,506.9 447.3,506.3 448.3,505.6 449.3,504.9 450.3,504.2 451.3,503.5 452.3,502.8 453.3,502.1 454.3,501.4 455.3,500.7 456.3,500.0 457.3,499.3 458.3,498.7 459.3,498.0 460.3,497.3 461.3,496.6 462.3,495.9 463.3,495.2 464.3,494.5 465.3,493.8 466.3,493.1 467.3,492.4 468.3,491.7 469.3,491.1 470.3,490.4 471.3,489.7 472.3,489.0 473.3,488.3 474.3,487.6 475.3,486.9 476.3,486.2 477.3,485.5 478.3,484.8 479.3,484.1 480.3,483.5 481.3,482.8 482.3,482.1 483.3,481.4 484.3,480.7 485.3,480.0 486.3,479.3 487.3,478.6 488.3,477.9 489.3,477.2 490.3,476.6 491.3,475.9 492.3,475.2 493.3,474.5 494.3,473.8 495.3,473.1 496.3,472.4 497.3,471.8 498.3,471.2 499.3,470.7 500.3,470.3 501.3,469.9 502.3,469.4 503.3,469.0 504.3,468.6 505.3,468.3" fill="none" stroke="#2d0f3e" stroke-width="2.5" stroke-linejoin="round" stroke-linecap="butt" />
<polyline points="335.2,537.0 336.2,537.3 337.2,537.8 338.2,538.2 339.2,538.8 340.2,539.5 341.2,540.5 342.2,542.0 343.2,543.9 344.2,546.2 345.2,548.5 346.2,550.8 347.2,553.0 348.2,554.8 349.2,556.0 350.2,557.0 351.2,557.9 352.2,558.8 353.2,559.7 354.2,560.4 355.2,560.9 356.2,561.2 357.2,561.3 358.2,561.4 359.2,561.5 360.2,561.6 361.2,561.7 362.2,561.8 363.2,561.9 364.2,562.0 365.2,562.2 366.2,562.2 367.2,562.2 368.2,562.2 369.2,562.2 370.2,562.1 371.2,562.1 372.2,562.0 373.2,562.0 374.2,561.9 375.2,561.9 376.2,561.8 377.2,561.7 378.2,561.6 379.2,561.3 380.2,560.8 381.2,560.3 382.2,559.8 383.2,559.3 384.2,558.8 385.2,558.3 386.2,557.8 387.2,557.3 388.2,556.8 389.2,556.3 390.2,555.7 391.2,555.1 392.2,554.4 393.2,553.6 394.2,552.9 395.2,552.2 396.2,551.4 397.2,550.7 398.2,550.0 399.2,549.2 400.2,548.5 401.2,547.8 402.2,547.0 403.2,546.3 404.2,545.5 405.2,544.8 406.2,544.1 407.2,543.3 408.2,542.6 409.2,541.9 410.2,541.1 411.2,540.4 412.2,539.7 413.2,538.9 414.2,538.2 415.2,537.5 416.2,536.7 417.2,536.0 418.2,535.2 419.2,534.5 420.2,533.8 421.2,533.0 422.2,532.3 423.2,531.6 424.2,530.8 425.2,530.1 426.2,529.4 427.2,528.6 428.2,527.9 429.2,527.1 430.2,526.4 431.2,525.7 432.2,524.9 433.2,524.2 434.2,523.5 435.2,522.7 436.2,522.0 437.2,521.3 438.2,520.5 439.2,519.8 440.2,519.1 441.2,518.4 442.2,517.7 443.2,517.0 444.2,516.2 445.2,515.5 446.2,514.8 447.2,514.1 448.2,513.4 449.2,512.7 450.2,512.0 451.2,511.3 452.2,510.6 453.2,509.9 454.2,509.2 455.2,508.5 456.2,507.8 457.2,507.1 458.2,506.4 459.2,505.7 460.2,505.0 461.2,504.3 462.2,503.6 463.2,502.9 464.2,502.2 465.2,501.5 466.2,500.8 467.2,500.1 468.2,499.4 469.2,498.7 470.2,498.0 471.2,497.3 472.2,496.6 473.2,495.9 474.2,495.2 475.2,494.5 476.2,493.8 477.2,493.1 478.2,492.3 479.2,491.6 480.2,490.9 481.2,490.2 482.2,489.5 483.2,488.8 484.2,488.1 485.2,487.4 486.2,486.7 487.2,486.0 488.2,485.3 489.2,484.6 490.2,483.9 491.2,483.2 492.2,482.5 493.2,481.8 494.2,481.1 495.2,480.4 496.2,479.7 497.2,479.0 498.2,478.5 499.2,478.1 500.2,477.7 501.2,477.4 502.2,477.0 503.2,476.7 504.2,476.5" fill="none" stroke="#2ab4e8" stroke-width="2.5" stroke-linejoin="round" stroke-linecap="butt" />
<polyline points="332.2,555.1 333.2,555.2 334.2,555.4 335.2,555.7 336.2,556.0 337.2,556.3 338.2,556.6 339.2,556.9 340.2,557.3 341.2,557.7 342.2,558.1 343.2,558.6 344.2,559.0 345.2,559.4 346.2,559.8 347.2,560.1 348.2,560.4 349.2,560.6 350.2,560.8 351.2,561.0 352.2,561.1 353.2,561.3 354.2,561.4 355.2,561.6 356.2,561.7 357.2,561.9 358.2,562.0 359.2,562.1 360.2,562.2 361.2,562.3 362.2,562.4 363.2,562.4 364.2,562.4 365.2,562.5 366.2,562.5 367.2,562.6 368.2,562.6 369.2,562.6 370.2,562.7 371.2,562.7 372.2,562.7 373.2,562.8 374.2,562.8 375.2,562.8 376.2,562.8 377.2,562.9 378.2,562.8 379.2,562.8 380.2,562.7 381.2,562.5 382.2,562.3 383.2,562.1 384.2,561.9 385.2,561.6 386.2,561.4 387.2,561.1 388.2,560.9 389.2,560.6 390.2,560.3 391.2,560.0 392.2,559.6 393.2,559.1 394.2,558.6 395.2,558.0 396.2,557.3 397.2,556.6 398.2,555.9 399.2,555.1 400.2,554.4 401.2,553.7 402.2,552.9 403.2,552.2 404.2,551.5 405.2,550.7 406.2,550.0 407.2,549.3 408.2,548.5 409.2,547.8 410.2,547.1 411.2,546.3 412.2,545.6 413.2,544.9 414.2,544.1 415.2,543.4 416.2,542.7 417.2,541.9 418.2,541.2 419.2,540.5 420.2,539.7 421.2,539.0 422.2,538.3 423.2,537.5 424.2,536.8 425.2,536.1 426.2,535.3 427.2,534.6 428.2,533.9 429.2,533.1 430.2,532.4 431.2,531.7 432.2,530.9 433.2,530.2 434.2,529.5 435.2,528.7 436.2,528.0 437.2,527.3 438.2,526.5 439.2,525.8 440.2,525.1 441.2,524.4 442.2,523.7 443.2,522.9 444.2,522.2 445.2,521.5 446.2,520.8 447.2,520.1 448.2,519.4 449.2,518.7 450.2,518.0 451.2,517.3 452.2,516.6 453.2,515.9 454.2,515.2 455.2,514.5 456.2,513.8 457.2,513.1 458.2,512.4 459.2,511.7 460.2,511.0 461.2,510.3 462.2,509.6 463.2,508.9 464.2,508.1 465.2,507.4 466.2,506.7 467.2,506.0 468.2,505.3 469.2,504.6 470.2,503.9 471.2,503.2 472.2,502.5 473.2,501.8 474.2,501.1 475.2,500.4 476.2,499.7 477.2,499.0 478.2,498.3 479.2,497.6 480.2,496.9 481.2,496.2 482.2,495.5 483.2,494.8 484.2,494.1 485.2,493.3 486.2,492.6 487.2,491.9 488.2,491.2 489.2,490.5 490.2,489.8 491.2,489.1 492.2,488.4 493.2,487.7 494.2,487.0 495.2,486.4 496.2,485.8 497.2,485.2 498.2,484.7 499.2,484.3 500.2,483.9 501.2,483.6 502.2,483.4 503.2,483.2" fill="none" stroke="#9cf23a" stroke-width="2.5" stroke-linejoin="round" stroke-linecap="butt" />
<polyline points="332.2,560.7 333.2,560.8 334.2,560.8 335.2,560.9 336.2,561.0 337.2,561.1 338.2,561.1 339.2,561.2 340.2,561.3 341.2,561.4 342.2,561.5 343.2,561.6 344.2,561.7 345.2,561.8 346.2,562.0 347.2,562.1 348.2,562.2 349.2,562.3 350.2,562.4 351.2,562.5 352.2,562.6 353.2,562.7 354.2,562.8 355.2,562.9 356.2,563.0 357.2,563.1 358.2,563.2 359.2,563.3 360.2,563.4 361.2,563.4 362.2,563.5 363.2,563.5 364.2,563.6 365.2,563.6 366.2,563.7 367.2,563.7 368.2,563.8 369.2,563.8 370.2,563.9 371.2,563.9 372.2,564.0 373.2,564.0 374.2,564.0 375.2,564.1 376.2,564.1 377.2,564.1 378.2,564.1 379.2,564.1 380.2,564.0 381.2,563.9 382.2,563.8 383.2,563.6 384.2,563.4 385.2,563.3 386.2,563.1 387.2,562.9 388.2,562.7 389.2,562.5 390.2,562.3 391.2,562.1 392.2,561.9 393.2,561.7 394.2,561.4 395.2,561.1 396.2,560.7 397.2,560.3 398.2,559.8 399.2,559.3 400.2,558.7 401.2,558.0 402.2,557.4 403.2,556.7 404.2,556.0 405.2,555.3 406.2,554.6 407.2,553.9 408.2,553.2 409.2,552.5 410.2,551.9 411.2,551.2 412.2,550.5 413.2,549.8 414.2,549.1 415.2,548.4 416.2,547.7 417.2,547.0 418.2,546.3 419.2,545.6 420.2,544.9 421.2,544.2 422.2,543.5 423.2,542.8 424.2,542.1 425.2,541.5 426.2,540.8 427.2,540.1 428.2,539.4 429.2,538.7 430.2,538.0 431.2,537.3 432.2,536.6 433.2,535.9 434.2,535.2 435.2,534.5 436.2,533.8 437.2,533.1 438.2,532.4 439.2,531.7 440.2,531.0 441.2,530.3 442.2,529.6 443.2,528.8 444.2,528.1 445.2,527.3 446.2,526.6 447.2,525.9 448.2,525.1 449.2,524.4 450.2,523.6 451.2,522.9 452.2,522.2 453.2,521.4 454.2,520.7 455.2,519.9 456.2,519.2 457.2,518.5 458.2,517.7 459.2,517.0 460.2,516.2 461.2,515.5 462.2,514.8 463.2,514.0 464.2,513.3 465.2,512.5 466.2,511.8 467.2,511.1 468.2,510.3 469.2,509.6 470.2,508.8 471.2,508.1 472.2,507.3 473.2,506.6 474.2,505.9 475.2,505.1 476.2,504.4 477.2,503.6 478.2,502.9 479.2,502.2 480.2,501.4 481.2,500.7 482.2,499.9 483.2,499.2 484.2,498.5 485.2,497.7 486.2,497.0 487.2,496.2 488.2,495.5 489.2,494.8 490.2,494.0 491.2,493.3 492.2,492.6 493.2,491.9 494.2,491.2 495.2,490.6 496.2,490.1 497.2,489.6 498.2,489.2 499.2,488.9 500.2,488.7 501.2,488.5 502.2,488.3" fill="none" stroke="#ff8020" stroke-width="2.5" stroke-linejoin="round" stroke-linecap="butt" />
<polyline points="332.2,562.5 333.2,562.6 334.2,562.8 335.2,562.9 336.2,563.0 337.2,563.2 338.2,563.3 339.2,563.4 340.2,563.5 341.2,563.6 342.2,563.7 343.2,563.8 344.2,563.9 345.2,563.9 346.2,564.0 347.2,564.0 348.2,564.1 349.2,564.1 350.2,564.2 351.2,564.2 352.2,564.3 353.2,564.3 354.2,564.3 355.2,564.4 356.2,564.4 357.2,564.5 358.2,564.5 359.2,564.6 360.2,564.6 361.2,564.6 362.2,564.7 363.2,564.7 364.2,564.7 365.2,564.8 366.2,564.8 367.2,564.9 368.2,564.9 369.2,564.9 370.2,565.0 371.2,565.0 372.2,565.0 373.2,565.1 374.2,565.1 375.2,565.1 376.2,565.1 377.2,565.1 378.2,565.1 379.2,565.1 380.2,565.1 381.2,565.0 382.2,565.0 383.2,564.9 384.2,564.8 385.2,564.7 386.2,564.6 387.2,564.5 388.2,564.4 389.2,564.3 390.2,564.2 391.2,564.1 392.2,563.9 393.2,563.7 394.2,563.4 395.2,563.1 396.2,562.8 397.2,562.3 398.2,561.9 399.2,561.3 400.2,560.8 401.2,560.2 402.2,559.6 403.2,559.0 404.2,558.3 405.2,557.7 406.2,557.1 407.2,556.5 408.2,555.9 409.2,555.2 410.2,554.6 411.2,554.0 412.2,553.4 413.2,552.8 414.2,552.2 415.2,551.6 416.2,551.0 417.2,550.4 418.2,549.8 419.2,549.2 420.2,548.5 421.2,547.9 422.2,547.3 423.2,546.7 424.2,546.1 425.2,545.5 426.2,544.9 427.2,544.3 428.2,543.7 429.2,543.1 430.2,542.5 431.2,541.9 432.2,541.2 433.2,540.6 434.2,540.0 435.2,539.4 436.2,538.8 437.2,538.1 438.2,537.5 439.2,536.8 440.2,536.2 441.2,535.5 442.2,534.8 443.2,534.1 444.2,533.3 445.2,532.6 446.2,531.9 447.2,531.1 448.2,530.4 449.2,529.6 450.2,528.9 451.2,528.1 452.2,527.4 453.2,526.7 454.2,525.9 455.2,525.2 456.2,524.4 457.2,523.7 458.2,522.9 459.2,522.2 460.2,521.4 461.2,520.7 462.2,519.9 463.2,519.2 464.2,518.4 465.2,517.7 466.2,517.0 467.2,516.2 468.2,515.5 469.2,514.7 470.2,514.0 471.2,513.2 472.2,512.5 473.2,511.7 474.2,511.0 475.2,510.2 476.2,509.5 477.2,508.8 478.2,508.0 479.2,507.3 480.2,506.5 481.2,505.8 482.2,505.0 483.2,504.3 484.2,503.5 485.2,502.8 486.2,502.0 487.2,501.3 488.2,500.6 489.2,499.8 490.2,499.1 491.2,498.4 492.2,497.7 493.2,497.1 494.2,496.5 495.2,496.0 496.2,495.6 497.2,495.2 498.2,494.9 499.2,494.6 500.2,494.4 501.2,494.3" fill="none" stroke="#e3161c" stroke-width="2.5" stroke-linejoin="round" stroke-linecap="butt" />
<line x1="600.50" y1="257.7" x2="600.50" y2="396.3" stroke="#e4e4e4" stroke-width="0.8"/>
<line x1="635.20" y1="257.7" x2="635.20" y2="396.3" stroke="#e4e4e4" stroke-width="0.8"/>
<line x1="669.90" y1="257.7" x2="669.90" y2="396.3" stroke="#e4e4e4" stroke-width="0.8"/>
<line x1="704.60" y1="257.7" x2="704.60" y2="396.3" stroke="#e4e4e4" stroke-width="0.8"/>
<line x1="739.30" y1="257.7" x2="739.30" y2="396.3" stroke="#e4e4e4" stroke-width="0.8"/>
<line x1="561.8" y1="359.40" x2="751" y2="359.40" stroke="#e4e4e4" stroke-width="0.8"/>
<line x1="561.8" y1="322.40" x2="751" y2="322.40" stroke="#e4e4e4" stroke-width="0.8"/>
<line x1="561.8" y1="285.40" x2="751" y2="285.40" stroke="#e4e4e4" stroke-width="0.8"/>
<line x1="561.8" y1="257.7" x2="561.8" y2="397.40000000000003" stroke="#000" stroke-width="2.2"/>
<line x1="560.6999999999999" y1="396.3" x2="751" y2="396.3" stroke="#000" stroke-width="2.2"/>
<line x1="561.8" y1="396.40" x2="565.3" y2="396.40" stroke="#000" stroke-width="1.6"/>
<text class="tk" x="0" y="0" font-size="10.2" text-anchor="end" font-weight="bold" fill="#111" transform="translate(557.70,400.10) scale(0.92,1)">0</text>
<line x1="561.8" y1="359.40" x2="565.3" y2="359.40" stroke="#000" stroke-width="1.6"/>
<text class="tk" x="0" y="0" font-size="10.2" text-anchor="end" font-weight="bold" fill="#111" transform="translate(557.70,363.10) scale(0.92,1)">2</text>
<line x1="561.8" y1="322.40" x2="565.3" y2="322.40" stroke="#000" stroke-width="1.6"/>
<text class="tk" x="0" y="0" font-size="10.2" text-anchor="end" font-weight="bold" fill="#111" transform="translate(557.70,326.10) scale(0.92,1)">4</text>
<line x1="561.8" y1="285.40" x2="565.3" y2="285.40" stroke="#000" stroke-width="1.6"/>
<text class="tk" x="0" y="0" font-size="10.2" text-anchor="end" font-weight="bold" fill="#111" transform="translate(557.70,289.10) scale(0.92,1)">6</text>
<line x1="565.80" y1="396.3" x2="565.80" y2="392.8" stroke="#000" stroke-width="1.6"/>
<text class="tk" x="0" y="0" font-size="10.2" text-anchor="middle" font-weight="bold" fill="#111" transform="translate(565.80,410.10) scale(0.92,1)">-0.5</text>
<line x1="600.50" y1="396.3" x2="600.50" y2="392.8" stroke="#000" stroke-width="1.6"/>
<text class="tk" x="0" y="0" font-size="10.2" text-anchor="middle" font-weight="bold" fill="#111" transform="translate(600.50,410.10) scale(0.92,1)">0</text>
<line x1="635.20" y1="396.3" x2="635.20" y2="392.8" stroke="#000" stroke-width="1.6"/>
<text class="tk" x="0" y="0" font-size="10.2" text-anchor="middle" font-weight="bold" fill="#111" transform="translate(635.20,410.10) scale(0.92,1)">0.5</text>
<line x1="669.90" y1="396.3" x2="669.90" y2="392.8" stroke="#000" stroke-width="1.6"/>
<text class="tk" x="0" y="0" font-size="10.2" text-anchor="middle" font-weight="bold" fill="#111" transform="translate(669.90,410.10) scale(0.92,1)">1</text>
<line x1="704.60" y1="396.3" x2="704.60" y2="392.8" stroke="#000" stroke-width="1.6"/>
<text class="tk" x="0" y="0" font-size="10.2" text-anchor="middle" font-weight="bold" fill="#111" transform="translate(704.60,410.10) scale(0.92,1)">1.5</text>
<line x1="739.30" y1="396.3" x2="739.30" y2="392.8" stroke="#000" stroke-width="1.6"/>
<text class="tk" x="0" y="0" font-size="10.2" text-anchor="middle" font-weight="bold" fill="#111" transform="translate(739.30,410.10) scale(0.92,1)">2</text>
<text x="648.5" y="422.8" font-size="10.7" text-anchor="middle" font-weight="bold" fill="#111" >Time relative to the peak of the TPSF (ns)</text>
<text x="0" y="0" font-size="10.7" font-weight="bold" class="rot" fill="#111" text-anchor="middle" transform="translate(547.9,329) rotate(-90)">CNR @ 10 Hz</text>
<text x="540.3" y="262.7" font-size="11.6" text-anchor="start" font-weight="bold" fill="#111" >(e)</text>
<polyline points="566.6,396.9 567.6,396.9 568.6,396.9 569.6,396.9 570.6,396.8 571.6,396.8 572.6,396.8 573.6,396.8 574.6,396.8 575.6,396.7 576.6,396.7 577.6,396.6 578.6,396.6 579.6,396.5 580.6,396.5 581.6,396.4 582.6,396.3 583.6,396.2 584.6,396.0 585.6,395.8 586.6,395.7 587.6,395.5 588.6,395.3 589.6,395.0 590.6,394.6 591.6,394.2 592.6,393.7 593.6,393.3 594.6,392.8 595.6,392.3 596.6,391.4 597.6,390.3 598.6,389.1 599.6,387.8 600.6,386.6 601.6,385.4 602.6,384.0 603.6,381.8 604.6,379.0 605.6,376.1 606.6,373.2 607.6,370.4 608.6,367.5 609.6,364.6 610.6,361.5 611.6,358.3 612.6,355.2 613.6,352.0 614.6,348.8 615.6,345.6 616.6,342.5 617.6,339.7 618.6,337.0 619.6,334.2 620.6,331.5 621.6,328.8 622.6,326.0 623.6,323.6 624.6,322.1 625.6,320.9 626.6,319.7 627.6,318.5 628.6,317.3 629.6,316.1 630.6,315.5 631.6,316.4 632.6,317.6 633.6,318.8 634.6,320.1 635.6,321.3 636.6,322.6 637.6,324.0 638.6,326.0 639.6,328.0 640.6,330.1 641.6,332.1 642.6,334.1 643.6,336.2 644.6,338.3 645.6,340.5 646.6,342.7 647.6,344.9 648.6,347.1 649.6,349.4 650.6,351.6 651.6,353.7 652.6,355.7 653.6,357.7 654.6,359.7 655.6,361.7 656.6,363.6 657.6,365.6 658.6,367.4 659.6,369.0 660.6,370.5 661.6,372.1 662.6,373.7 663.6,375.2 664.6,376.7 665.6,378.0 666.6,379.2 667.6,380.3 668.6,381.4 669.6,382.5 670.6,383.6 671.6,384.6 672.6,385.5 673.6,386.2 674.6,386.9 675.6,387.7 676.6,388.4 677.6,389.1 678.6,389.8 679.6,390.3 680.6,390.7 681.6,391.1 682.6,391.5 683.6,391.9 684.6,392.3 685.6,392.7 686.6,393.0 687.6,393.3 688.6,393.5 689.6,393.8 690.6,394.1 691.6,394.3 692.6,394.6 693.6,394.8 694.6,394.9 695.6,395.1 696.6,395.2 697.6,395.4 698.6,395.6 699.6,395.7 700.6,395.8 701.6,395.9 702.6,396.0 703.6,396.1 704.6,396.2 705.6,396.2 706.6,396.3 707.6,396.3 708.6,396.3 709.6,396.3 710.6,396.3 711.6,396.4 712.6,396.4 713.6,396.4 714.6,396.4 715.6,396.4 716.6,396.4 717.6,396.4 718.6,396.4 719.6,396.4 720.6,396.4 721.6,396.4 722.6,396.4 723.6,396.4 724.6,396.4 725.6,396.5 726.6,396.5 727.6,396.5 728.6,396.5 729.6,396.5 730.6,396.5 731.6,396.5 732.6,396.5 733.6,396.5 734.6,396.5 735.6,396.5 736.6,396.5 737.6,396.5 738.6,396.5 739.6,396.5 740.6,396.5 741.6,396.5 742.6,396.5 743.6,396.5 744.6,396.5 745.6,396.5" fill="none" stroke="#2d0f3e" stroke-width="2.3" stroke-linejoin="round" stroke-linecap="butt" />
<polyline points="566.6,396.7 567.6,396.7 568.6,396.6 569.6,396.6 570.6,396.5 571.6,396.4 572.6,396.4 573.6,396.3 574.6,396.2 575.6,396.1 576.6,396.0 577.6,395.9 578.6,395.7 579.6,395.6 580.6,395.4 581.6,395.2 582.6,394.9 583.6,394.6 584.6,394.3 585.6,393.9 586.6,393.6 587.6,393.2 588.6,392.8 589.6,392.2 590.6,391.6 591.6,390.9 592.6,390.3 593.6,389.7 594.6,389.0 595.6,388.0 596.6,386.6 597.6,385.3 598.6,383.9 599.6,382.5 600.6,381.1 601.6,379.7 602.6,377.9 603.6,375.9 604.6,373.8 605.6,371.8 606.6,369.8 607.6,367.7 608.6,365.5 609.6,362.3 610.6,358.7 611.6,355.1 612.6,351.4 613.6,347.8 614.6,344.1 615.6,340.5 616.6,337.0 617.6,333.6 618.6,330.2 619.6,326.8 620.6,323.4 621.6,320.0 622.6,316.5 623.6,312.8 624.6,308.9 625.6,305.1 626.6,301.2 627.6,297.4 628.6,293.6 629.6,290.3 630.6,288.8 631.6,287.6 632.6,286.4 633.6,285.2 634.6,284.0 635.6,282.9 636.6,282.6 637.6,284.0 638.6,285.7 639.6,287.4 640.6,289.2 641.6,290.9 642.6,292.7 643.6,295.0 644.6,298.1 645.6,301.3 646.6,304.5 647.6,307.8 648.6,311.0 649.6,314.3 650.6,317.4 651.6,320.3 652.6,323.2 653.6,326.1 654.6,329.0 655.6,331.9 656.6,334.8 657.6,337.6 658.6,340.2 659.6,342.9 660.6,345.5 661.6,348.2 662.6,350.8 663.6,353.4 664.6,355.8 665.6,358.0 666.6,360.1 667.6,362.3 668.6,364.5 669.6,366.7 670.6,368.7 671.6,370.4 672.6,371.9 673.6,373.3 674.6,374.8 675.6,376.2 676.6,377.6 677.6,378.9 678.6,380.0 679.6,380.9 680.6,381.8 681.6,382.7 682.6,383.7 683.6,384.6 684.6,385.4 685.6,386.1 686.6,386.7 687.6,387.4 688.6,388.0 689.6,388.6 690.6,389.2 691.6,389.8 692.6,390.2 693.6,390.6 694.6,391.0 695.6,391.3 696.6,391.7 697.6,392.1 698.6,392.4 699.6,392.7 700.6,393.0 701.6,393.2 702.6,393.5 703.6,393.8 704.6,394.0 705.6,394.2 706.6,394.4 707.6,394.5 708.6,394.6 709.6,394.7 710.6,394.8 711.6,395.0 712.6,395.1 713.6,395.1 714.6,395.2 715.6,395.3 716.6,395.3 717.6,395.4 718.6,395.4 719.6,395.5 720.6,395.5 721.6,395.6 722.6,395.6 723.6,395.7 724.6,395.7 725.6,395.8 726.6,395.8 727.6,395.9 728.6,395.9 729.6,395.9 730.6,396.0 731.6,396.0 732.6,396.1 733.6,396.1 734.6,396.1 735.6,396.1 736.6,396.2 737.6,396.2 738.6,396.2 739.6,396.2 740.6,396.2 741.6,396.2 742.6,396.3 743.6,396.3 744.6,396.3 745.6,396.3 746.6,396.3 747.6,396.3" fill="none" stroke="#2ab4e8" stroke-width="2.3" stroke-linejoin="round" stroke-linecap="butt" />
<polyline points="565.3,394.9 566.3,394.8 567.3,394.7 568.3,394.6 569.3,394.5 570.3,394.4 571.3,394.3 572.3,394.1 573.3,393.9 574.3,393.7 575.3,393.4 576.3,393.2 577.3,393.0 578.3,392.7 579.3,392.4 580.3,392.0 581.3,391.6 582.3,391.1 583.3,390.7 584.3,390.2 585.3,389.7 586.3,389.2 587.3,388.5 588.3,387.7 589.3,386.9 590.3,386.2 591.3,385.4 592.3,384.6 593.3,383.7 594.3,382.7 595.3,381.6 596.3,380.4 597.3,379.3 598.3,378.2 599.3,377.0 600.3,375.9 601.3,374.4 602.3,372.9 603.3,371.4 604.3,369.8 605.3,368.3 606.3,366.8 607.3,365.2 608.3,363.2 609.3,361.2 610.3,359.1 611.3,357.1 612.3,355.1 613.3,353.0 614.3,350.6 615.3,347.5 616.3,344.2 617.3,340.9 618.3,337.7 619.3,334.4 620.3,331.1 621.3,327.3 622.3,322.9 623.3,318.2 624.3,313.6 625.3,309.0 626.3,304.4 627.3,299.9 628.3,296.2 629.3,293.6 630.3,291.1 631.3,288.7 632.3,286.3 633.3,283.9 634.3,281.5 635.3,279.6 636.3,278.1 637.3,276.6 638.3,275.2 639.3,273.8 640.3,272.3 641.3,271.2 642.3,271.5 643.3,272.9 644.3,274.6 645.3,276.2 646.3,277.8 647.3,279.5 648.3,281.3 649.3,283.7 650.3,286.4 651.3,289.2 652.3,292.1 653.3,294.9 654.3,297.7 655.3,300.7 656.3,304.5 657.3,308.7 658.3,312.9 659.3,317.1 660.3,321.3 661.3,325.5 662.3,329.5 663.3,332.8 664.3,336.0 665.3,339.1 666.3,342.1 667.3,345.2 668.3,348.3 669.3,351.3 670.3,353.6 671.3,355.8 672.3,357.9 673.3,360.1 674.3,362.3 675.3,364.4 676.3,366.4 677.3,368.1 678.3,369.6 679.3,371.2 680.3,372.7 681.3,374.2 682.3,375.8 683.3,377.1 684.3,378.2 685.3,379.2 686.3,380.2 687.3,381.1 688.3,382.1 689.3,383.1 690.3,384.0 691.3,384.7 692.3,385.4 693.3,386.1 694.3,386.8 695.3,387.5 696.3,388.2 697.3,388.8 698.3,389.3 699.3,389.8 700.3,390.3 701.3,390.7 702.3,391.2 703.3,391.7 704.3,392.1 705.3,392.3 706.3,392.6 707.3,392.8 708.3,393.1 709.3,393.3 710.3,393.5 711.3,393.7 712.3,393.9 713.3,394.0 714.3,394.2 715.3,394.3 716.3,394.5 717.3,394.6 718.3,394.7 719.3,394.8 720.3,394.9 721.3,395.0 722.3,395.1 723.3,395.2 724.3,395.2 725.3,395.3 726.3,395.4 727.3,395.5 728.3,395.5 729.3,395.6 730.3,395.7 731.3,395.7 732.3,395.8 733.3,395.8 734.3,395.9 735.3,395.9 736.3,396.0 737.3,396.0 738.3,396.1 739.3,396.1 740.3,396.1 741.3,396.2 742.3,396.2 743.3,396.2 744.3,396.3 745.3,396.3 746.3,396.3 747.3,396.3" fill="none" stroke="#9cf23a" stroke-width="2.3" stroke-linejoin="round" stroke-linecap="butt" />
<polyline points="564.6,391.6 565.6,391.5 566.6,391.3 567.6,391.1 568.6,391.0 569.6,390.8 570.6,390.6 571.6,390.4 572.6,390.1 573.6,389.8 574.6,389.4 575.6,389.1 576.6,388.8 577.6,388.4 578.6,388.1 579.6,387.6 580.6,387.1 581.6,386.5 582.6,386.0 583.6,385.5 584.6,384.9 585.6,384.4 586.6,383.6 587.6,382.9 588.6,382.1 589.6,381.3 590.6,380.5 591.6,379.7 592.6,378.9 593.6,378.0 594.6,377.0 595.6,376.0 596.6,375.0 597.6,374.0 598.6,373.0 599.6,371.9 600.6,370.9 601.6,369.9 602.6,368.8 603.6,367.8 604.6,366.7 605.6,365.7 606.6,364.5 607.6,363.2 608.6,361.9 609.6,360.6 610.6,359.2 611.6,357.9 612.6,356.5 613.6,354.9 614.6,352.9 615.6,350.9 616.6,348.9 617.6,346.8 618.6,344.8 619.6,342.7 620.6,340.3 621.6,337.7 622.6,335.0 623.6,332.3 624.6,329.6 625.6,326.8 626.6,324.0 627.6,320.6 628.6,316.8 629.6,312.9 630.6,309.0 631.6,305.2 632.6,301.3 633.6,297.5 634.6,294.3 635.6,291.6 636.6,288.8 637.6,286.1 638.6,283.4 639.6,280.6 640.6,278.1 641.6,276.7 642.6,275.7 643.6,274.7 644.6,273.8 645.6,272.9 646.6,271.9 647.6,271.4 648.6,272.2 649.6,273.5 650.6,274.9 651.6,276.3 652.6,277.7 653.6,279.1 654.6,280.6 655.6,282.9 656.6,285.4 657.6,287.8 658.6,290.3 659.6,292.7 660.6,295.2 661.6,298.0 662.6,301.6 663.6,305.3 664.6,309.1 665.6,312.9 666.6,316.7 667.6,320.4 668.6,324.0 669.6,327.3 670.6,330.6 671.6,333.8 672.6,337.0 673.6,340.3 674.6,343.5 675.6,346.3 676.6,348.6 677.6,350.8 678.6,353.0 679.6,355.2 680.6,357.4 681.6,359.6 682.6,361.6 683.6,363.4 684.6,365.2 685.6,367.0 686.6,368.7 687.6,370.5 688.6,372.2 689.6,373.6 690.6,374.8 691.6,375.9 692.6,377.0 693.6,378.2 694.6,379.3 695.6,380.3 696.6,381.2 697.6,382.0 698.6,382.7 699.6,383.4 700.6,384.1 701.6,384.8 702.6,385.5 703.6,386.1 704.6,386.6 705.6,387.1 706.6,387.5 707.6,388.0 708.6,388.5 709.6,389.0 710.6,389.4 711.6,389.8 712.6,390.2 713.6,390.6 714.6,391.0 715.6,391.4 716.6,391.7 717.6,392.0 718.6,392.2 719.6,392.5 720.6,392.7 721.6,392.9 722.6,393.2 723.6,393.4 724.6,393.6 725.6,393.7 726.6,393.9 727.6,394.1 728.6,394.3 729.6,394.4 730.6,394.6 731.6,394.7 732.6,394.8 733.6,395.0 734.6,395.1 735.6,395.2 736.6,395.3 737.6,395.4 738.6,395.5 739.6,395.5 740.6,395.6 741.6,395.7 742.6,395.7 743.6,395.8 744.6,395.8" fill="none" stroke="#ff8020" stroke-width="2.3" stroke-linejoin="round" stroke-linecap="butt" />
<polyline points="564.0,387.6 565.0,387.4 566.0,387.1 567.0,386.9 568.0,386.6 569.0,386.4 570.0,386.1 571.0,385.9 572.0,385.5 573.0,385.1 574.0,384.7 575.0,384.3 576.0,383.9 577.0,383.5 578.0,383.1 579.0,382.6 580.0,382.1 581.0,381.5 582.0,381.0 583.0,380.4 584.0,379.9 585.0,379.3 586.0,378.6 587.0,377.8 588.0,377.1 589.0,376.3 590.0,375.6 591.0,374.8 592.0,374.1 593.0,373.3 594.0,372.5 595.0,371.7 596.0,370.9 597.0,370.2 598.0,369.4 599.0,368.6 600.0,367.9 601.0,367.1 602.0,366.3 603.0,365.6 604.0,364.8 605.0,364.1 606.0,363.2 607.0,362.4 608.0,361.5 609.0,360.6 610.0,359.7 611.0,358.8 612.0,357.9 613.0,356.5 614.0,354.9 615.0,353.3 616.0,351.7 617.0,350.0 618.0,348.4 619.0,346.7 620.0,344.8 621.0,342.8 622.0,340.8 623.0,338.8 624.0,336.8 625.0,334.8 626.0,332.7 627.0,330.2 628.0,327.7 629.0,325.1 630.0,322.5 631.0,319.9 632.0,317.3 633.0,314.7 634.0,311.9 635.0,309.1 636.0,306.2 637.0,303.4 638.0,300.6 639.0,297.8 640.0,295.1 641.0,293.0 642.0,291.0 643.0,289.0 644.0,287.0 645.0,285.0 646.0,283.0 647.0,281.3 648.0,280.2 649.0,279.2 650.0,278.2 651.0,277.2 652.0,276.3 653.0,275.4 654.0,275.1 655.0,275.9 656.0,276.8 657.0,277.8 658.0,278.8 659.0,279.8 660.0,280.8 661.0,282.4 662.0,284.6 663.0,286.9 664.0,289.3 665.0,291.6 666.0,294.0 667.0,296.5 668.0,299.8 669.0,303.8 670.0,308.0 671.0,312.2 672.0,316.4 673.0,320.6 674.0,324.7 675.0,327.9 676.0,330.5 677.0,333.1 678.0,335.6 679.0,338.1 680.0,340.6 681.0,343.1 682.0,345.3 683.0,347.4 684.0,349.5 685.0,351.6 686.0,353.7 687.0,355.8 688.0,357.8 689.0,359.8 690.0,361.6 691.0,363.5 692.0,365.3 693.0,367.1 694.0,369.0 695.0,370.7 696.0,372.0 697.0,373.2 698.0,374.3 699.0,375.4 700.0,376.5 701.0,377.7 702.0,378.7 703.0,379.6 704.0,380.4 705.0,381.2 706.0,382.0 707.0,382.8 708.0,383.5 709.0,384.3 710.0,384.9 711.0,385.6 712.0,386.2 713.0,386.8 714.0,387.4 715.0,388.0 716.0,388.6 717.0,389.0 718.0,389.4 719.0,389.8 720.0,390.1 721.0,390.5 722.0,390.9 723.0,391.2 724.0,391.5 725.0,391.8 726.0,392.1 727.0,392.4 728.0,392.7 729.0,393.0 730.0,393.3 731.0,393.5 732.0,393.7 733.0,393.9 734.0,394.2 735.0,394.4 736.0,394.6 737.0,394.8 738.0,394.9 739.0,395.0 740.0,395.1 741.0,395.2 742.0,395.3 743.0,395.4 744.0,395.5 745.0,395.5" fill="none" stroke="#e3161c" stroke-width="2.3" stroke-linejoin="round" stroke-linecap="butt" />
<line x1="600.40" y1="435.3" x2="600.40" y2="574.3" stroke="#e4e4e4" stroke-width="0.8"/>
<line x1="635.10" y1="435.3" x2="635.10" y2="574.3" stroke="#e4e4e4" stroke-width="0.8"/>
<line x1="669.80" y1="435.3" x2="669.80" y2="574.3" stroke="#e4e4e4" stroke-width="0.8"/>
<line x1="704.50" y1="435.3" x2="704.50" y2="574.3" stroke="#e4e4e4" stroke-width="0.8"/>
<line x1="739.20" y1="435.3" x2="739.20" y2="574.3" stroke="#e4e4e4" stroke-width="0.8"/>
<line x1="561.8" y1="537.40" x2="751" y2="537.40" stroke="#e4e4e4" stroke-width="0.8"/>
<line x1="561.8" y1="500.50" x2="751" y2="500.50" stroke="#e4e4e4" stroke-width="0.8"/>
<line x1="561.8" y1="463.60" x2="751" y2="463.60" stroke="#e4e4e4" stroke-width="0.8"/>
<line x1="561.8" y1="435.3" x2="561.8" y2="575.4" stroke="#000" stroke-width="2.2"/>
<line x1="560.6999999999999" y1="574.3" x2="751" y2="574.3" stroke="#000" stroke-width="2.2"/>
<line x1="561.8" y1="574.30" x2="565.3" y2="574.30" stroke="#000" stroke-width="1.6"/>
<text class="tk" x="0" y="0" font-size="10.2" text-anchor="end" font-weight="bold" fill="#111" transform="translate(557.70,578.00) scale(0.92,1)">0</text>
<line x1="561.8" y1="537.40" x2="565.3" y2="537.40" stroke="#000" stroke-width="1.6"/>
<text class="tk" x="0" y="0" font-size="10.2" text-anchor="end" font-weight="bold" fill="#111" transform="translate(557.70,541.10) scale(0.92,1)">2</text>
<line x1="561.8" y1="500.50" x2="565.3" y2="500.50" stroke="#000" stroke-width="1.6"/>
<text class="tk" x="0" y="0" font-size="10.2" text-anchor="end" font-weight="bold" fill="#111" transform="translate(557.70,504.20) scale(0.92,1)">4</text>
<line x1="561.8" y1="463.60" x2="565.3" y2="463.60" stroke="#000" stroke-width="1.6"/>
<text class="tk" x="0" y="0" font-size="10.2" text-anchor="end" font-weight="bold" fill="#111" transform="translate(557.70,467.30) scale(0.92,1)">6</text>
<line x1="565.70" y1="574.3" x2="565.70" y2="570.8" stroke="#000" stroke-width="1.6"/>
<text class="tk" x="0" y="0" font-size="10.2" text-anchor="middle" font-weight="bold" fill="#111" transform="translate(565.70,588.70) scale(0.92,1)">-0.5</text>
<line x1="600.40" y1="574.3" x2="600.40" y2="570.8" stroke="#000" stroke-width="1.6"/>
<text class="tk" x="0" y="0" font-size="10.2" text-anchor="middle" font-weight="bold" fill="#111" transform="translate(600.40,588.70) scale(0.92,1)">0</text>
<line x1="635.10" y1="574.3" x2="635.10" y2="570.8" stroke="#000" stroke-width="1.6"/>
<text class="tk" x="0" y="0" font-size="10.2" text-anchor="middle" font-weight="bold" fill="#111" transform="translate(635.10,588.70) scale(0.92,1)">0.5</text>
<line x1="669.80" y1="574.3" x2="669.80" y2="570.8" stroke="#000" stroke-width="1.6"/>
<text class="tk" x="0" y="0" font-size="10.2" text-anchor="middle" font-weight="bold" fill="#111" transform="translate(669.80,588.70) scale(0.92,1)">1</text>
<line x1="704.50" y1="574.3" x2="704.50" y2="570.8" stroke="#000" stroke-width="1.6"/>
<text class="tk" x="0" y="0" font-size="10.2" text-anchor="middle" font-weight="bold" fill="#111" transform="translate(704.50,588.70) scale(0.92,1)">1.5</text>
<line x1="739.20" y1="574.3" x2="739.20" y2="570.8" stroke="#000" stroke-width="1.6"/>
<text class="tk" x="0" y="0" font-size="10.2" text-anchor="middle" font-weight="bold" fill="#111" transform="translate(739.20,588.70) scale(0.92,1)">2</text>
<text x="648.5" y="600.6" font-size="10.7" text-anchor="middle" font-weight="bold" fill="#111" >Time relative to the peak of the TPSF (ns)</text>
<text x="0" y="0" font-size="10.7" font-weight="bold" class="rot" fill="#111" text-anchor="middle" transform="translate(547.9,506.5) rotate(-90)">CNR @ 10 Hz</text>
<text x="540.3" y="440.7" font-size="11.6" text-anchor="start" font-weight="bold" fill="#111" >(h)</text>
<polyline points="566.5,574.0 567.5,574.0 568.5,574.0 569.5,574.0 570.5,574.0 571.5,574.0 572.5,574.0 573.5,574.0 574.5,574.0 575.5,574.0 576.5,574.0 577.5,574.0 578.5,574.0 579.5,574.0 580.5,574.0 581.5,574.0 582.5,573.9 583.5,573.8 584.5,573.6 585.5,573.4 586.5,573.2 587.5,573.0 588.5,572.8 589.5,572.5 590.5,572.1 591.5,571.5 592.5,571.0 593.5,570.5 594.5,569.9 595.5,569.3 596.5,568.3 597.5,566.7 598.5,564.9 599.5,563.1 600.5,561.3 601.5,559.4 602.5,557.6 603.5,555.9 604.5,554.1 605.5,552.3 606.5,550.6 607.5,548.8 608.5,547.1 609.5,545.4 610.5,544.0 611.5,542.9 612.5,541.8 613.5,540.8 614.5,539.7 615.5,538.7 616.5,537.7 617.5,537.3 618.5,537.3 619.5,537.4 620.5,537.5 621.5,537.6 622.5,537.7 623.5,537.9 624.5,538.6 625.5,539.7 626.5,540.8 627.5,541.9 628.5,543.0 629.5,544.1 630.5,545.2 631.5,546.3 632.5,547.4 633.5,548.4 634.5,549.5 635.5,550.6 636.5,551.7 637.5,552.8 638.5,553.8 639.5,554.8 640.5,555.8 641.5,556.8 642.5,557.8 643.5,558.8 644.5,559.7 645.5,560.5 646.5,561.2 647.5,562.0 648.5,562.7 649.5,563.4 650.5,564.1 651.5,564.8 652.5,565.3 653.5,565.8 654.5,566.3 655.5,566.8 656.5,567.3 657.5,567.8 658.5,568.2 659.5,568.6 660.5,569.0 661.5,569.3 662.5,569.6 663.5,570.0 664.5,570.3 665.5,570.6 666.5,570.9 667.5,571.1 668.5,571.4 669.5,571.6 670.5,571.9 671.5,572.1 672.5,572.3 673.5,572.5 674.5,572.6 675.5,572.7 676.5,572.9 677.5,573.0 678.5,573.1 679.5,573.2 680.5,573.3 681.5,573.4 682.5,573.4 683.5,573.5 684.5,573.6 685.5,573.7 686.5,573.7 687.5,573.8 688.5,573.8 689.5,573.9 690.5,573.9 691.5,574.0 692.5,574.0 693.5,574.1 694.5,574.1 695.5,574.1 696.5,574.1 697.5,574.1 698.5,574.2 699.5,574.2 700.5,574.2 701.5,574.2 702.5,574.2 703.5,574.2 704.5,574.2 705.5,574.2 706.5,574.2 707.5,574.2 708.5,574.2 709.5,574.2 710.5,574.2 711.5,574.2 712.5,574.2 713.5,574.3 714.5,574.3 715.5,574.3 716.5,574.3 717.5,574.3 718.5,574.3 719.5,574.3 720.5,574.3 721.5,574.3 722.5,574.3 723.5,574.3 724.5,574.3 725.5,574.3 726.5,574.3 727.5,574.3 728.5,574.3 729.5,574.3 730.5,574.3 731.5,574.3 732.5,574.3 733.5,574.3 734.5,574.3 735.5,574.3 736.5,574.3 737.5,574.3 738.5,574.3 739.5,574.3 740.5,574.3 741.5,574.3 742.5,574.3 743.5,574.3 744.5,574.3" fill="none" stroke="#2d0f3e" stroke-width="2.3" stroke-linejoin="round" stroke-linecap="butt" />
<polyline points="566.5,574.0 567.5,574.0 568.5,574.0 569.5,574.0 570.5,573.9 571.5,573.9 572.5,573.9 573.5,573.9 574.5,573.8 575.5,573.8 576.5,573.7 577.5,573.7 578.5,573.6 579.5,573.6 580.5,573.5 581.5,573.3 582.5,573.0 583.5,572.7 584.5,572.4 585.5,572.1 586.5,571.8 587.5,571.4 588.5,570.9 589.5,570.3 590.5,569.6 591.5,569.0 592.5,568.3 593.5,567.7 594.5,567.0 595.5,565.9 596.5,564.6 597.5,563.4 598.5,562.2 599.5,560.9 600.5,559.7 601.5,558.3 602.5,556.2 603.5,553.9 604.5,551.6 605.5,549.4 606.5,547.1 607.5,544.8 608.5,542.4 609.5,539.8 610.5,537.1 611.5,534.4 612.5,531.7 613.5,529.0 614.5,526.3 615.5,523.9 616.5,521.9 617.5,520.0 618.5,518.0 619.5,516.1 620.5,514.2 621.5,512.5 622.5,511.5 623.5,511.9 624.5,512.7 625.5,513.4 626.5,514.1 627.5,514.8 628.5,515.6 629.5,516.8 630.5,518.5 631.5,520.3 632.5,522.0 633.5,523.8 634.5,525.6 635.5,527.4 636.5,529.2 637.5,531.0 638.5,532.8 639.5,534.7 640.5,536.5 641.5,538.3 642.5,540.1 643.5,541.8 644.5,543.4 645.5,544.9 646.5,546.4 647.5,548.0 648.5,549.5 649.5,551.0 650.5,552.2 651.5,553.4 652.5,554.5 653.5,555.6 654.5,556.7 655.5,557.8 656.5,558.8 657.5,559.7 658.5,560.5 659.5,561.3 660.5,562.0 661.5,562.8 662.5,563.6 663.5,564.3 664.5,564.9 665.5,565.4 666.5,565.9 667.5,566.4 668.5,567.0 669.5,567.5 670.5,568.0 671.5,568.4 672.5,568.7 673.5,569.1 674.5,569.4 675.5,569.8 676.5,570.2 677.5,570.5 678.5,570.7 679.5,570.9 680.5,571.0 681.5,571.2 682.5,571.4 683.5,571.6 684.5,571.7 685.5,571.9 686.5,572.0 687.5,572.1 688.5,572.2 689.5,572.3 690.5,572.5 691.5,572.6 692.5,572.7 693.5,572.8 694.5,572.9 695.5,573.0 696.5,573.0 697.5,573.1 698.5,573.2 699.5,573.3 700.5,573.3 701.5,573.4 702.5,573.5 703.5,573.5 704.5,573.6 705.5,573.6 706.5,573.7 707.5,573.7 708.5,573.7 709.5,573.8 710.5,573.8 711.5,573.8 712.5,573.9 713.5,573.9 714.5,573.9 715.5,573.9 716.5,574.0 717.5,574.0 718.5,574.0 719.5,574.0 720.5,574.0 721.5,574.1 722.5,574.1 723.5,574.1 724.5,574.1 725.5,574.1 726.5,574.1 727.5,574.2 728.5,574.2 729.5,574.2 730.5,574.2 731.5,574.2 732.5,574.2 733.5,574.2 734.5,574.2 735.5,574.3 736.5,574.3 737.5,574.3 738.5,574.3 739.5,574.3 740.5,574.3 741.5,574.3 742.5,574.3 743.5,574.3 744.5,574.3" fill="none" stroke="#2ab4e8" stroke-width="2.3" stroke-linejoin="round" stroke-linecap="butt" />
<polyline points="566.5,572.7 567.5,572.6 568.5,572.4 569.5,572.3 570.5,572.1 571.5,571.9 572.5,571.6 573.5,571.3 574.5,571.0 575.5,570.6 576.5,570.3 577.5,570.0 578.5,569.6 579.5,569.2 580.5,568.7 581.5,568.2 582.5,567.7 583.5,567.2 584.5,566.8 585.5,566.2 586.5,565.4 587.5,564.6 588.5,563.8 589.5,563.0 590.5,562.2 591.5,561.3 592.5,560.3 593.5,559.0 594.5,557.5 595.5,556.0 596.5,554.6 597.5,553.1 598.5,551.7 599.5,550.0 600.5,548.2 601.5,546.2 602.5,544.3 603.5,542.4 604.5,540.5 605.5,538.5 606.5,536.4 607.5,534.1 608.5,531.8 609.5,529.5 610.5,527.2 611.5,524.8 612.5,522.5 613.5,520.0 614.5,517.3 615.5,514.5 616.5,511.8 617.5,509.1 618.5,506.4 619.5,503.9 620.5,502.3 621.5,501.4 622.5,500.7 623.5,500.0 624.5,499.3 625.5,498.5 626.5,498.0 627.5,498.3 628.5,499.2 629.5,500.1 630.5,501.0 631.5,502.0 632.5,502.9 633.5,503.9 634.5,505.5 635.5,507.2 636.5,509.0 637.5,510.8 638.5,512.6 639.5,514.4 640.5,516.2 641.5,518.0 642.5,520.0 643.5,521.9 644.5,523.8 645.5,525.7 646.5,527.7 647.5,529.5 648.5,531.3 649.5,533.1 650.5,534.8 651.5,536.6 652.5,538.3 653.5,540.1 654.5,541.8 655.5,543.3 656.5,544.8 657.5,546.3 658.5,547.8 659.5,549.3 660.5,550.8 661.5,552.2 662.5,553.3 663.5,554.3 664.5,555.4 665.5,556.5 666.5,557.5 667.5,558.6 668.5,559.5 669.5,560.3 670.5,561.0 671.5,561.8 672.5,562.5 673.5,563.3 674.5,564.0 675.5,564.7 676.5,565.2 677.5,565.7 678.5,566.1 679.5,566.6 680.5,567.1 681.5,567.6 682.5,568.0 683.5,568.4 684.5,568.7 685.5,569.1 686.5,569.4 687.5,569.8 688.5,570.1 689.5,570.4 690.5,570.5 691.5,570.7 692.5,570.9 693.5,571.0 694.5,571.2 695.5,571.3 696.5,571.5 697.5,571.6 698.5,571.7 699.5,571.8 700.5,571.9 701.5,572.0 702.5,572.1 703.5,572.2 704.5,572.3 705.5,572.4 706.5,572.4 707.5,572.5 708.5,572.6 709.5,572.7 710.5,572.8 711.5,572.9 712.5,572.9 713.5,573.0 714.5,573.1 715.5,573.2 716.5,573.2 717.5,573.3 718.5,573.4 719.5,573.4 720.5,573.5 721.5,573.5 722.5,573.6 723.5,573.6 724.5,573.7 725.5,573.7 726.5,573.8 727.5,573.8 728.5,573.9 729.5,573.9 730.5,573.9 731.5,574.0 732.5,574.0 733.5,574.0 734.5,574.1 735.5,574.1 736.5,574.1 737.5,574.1 738.5,574.1 739.5,574.2 740.5,574.2 741.5,574.2 742.5,574.2 743.5,574.2 744.5,574.2" fill="none" stroke="#9cf23a" stroke-width="2.3" stroke-linejoin="round" stroke-linecap="butt" />
<polyline points="564.9,569.1 565.9,568.9 566.9,568.6 567.9,568.4 568.9,568.2 569.9,567.9 570.9,567.7 571.9,567.3 572.9,566.9 573.9,566.4 574.9,566.0 575.9,565.6 576.9,565.1 577.9,564.7 578.9,564.0 579.9,563.3 580.9,562.7 581.9,562.0 582.9,561.3 583.9,560.6 584.9,559.9 585.9,559.1 586.9,558.3 587.9,557.4 588.9,556.6 589.9,555.8 590.9,554.9 591.9,554.0 592.9,552.9 593.9,551.8 594.9,550.7 595.9,549.6 596.9,548.4 597.9,547.3 598.9,546.1 599.9,544.8 600.9,543.5 601.9,542.2 602.9,540.8 603.9,539.5 604.9,538.2 605.9,536.7 606.9,535.1 607.9,533.5 608.9,531.9 609.9,530.3 610.9,528.7 611.9,527.0 612.9,525.0 613.9,522.8 614.9,520.6 615.9,518.3 616.9,516.1 617.9,513.8 618.9,511.6 619.9,509.5 620.9,507.5 621.9,505.6 622.9,503.6 623.9,501.6 624.9,499.7 625.9,497.8 626.9,496.6 627.9,495.8 628.9,494.9 629.9,494.0 630.9,493.2 631.9,492.3 632.9,491.7 633.9,492.0 634.9,492.6 635.9,493.3 636.9,493.9 637.9,494.6 638.9,495.2 639.9,496.0 640.9,497.5 641.9,499.2 642.9,500.8 643.9,502.4 644.9,504.1 645.9,505.7 646.9,507.5 647.9,509.6 648.9,511.8 649.9,514.0 650.9,516.2 651.9,518.3 652.9,520.5 653.9,522.7 654.9,524.8 655.9,526.8 656.9,528.9 657.9,531.0 658.9,533.1 659.9,535.1 660.9,537.0 661.9,538.7 662.9,540.3 663.9,541.9 664.9,543.6 665.9,545.2 666.9,546.8 667.9,548.2 668.9,549.4 669.9,550.6 670.9,551.8 671.9,553.0 672.9,554.1 673.9,555.3 674.9,556.3 675.9,557.3 676.9,558.2 677.9,559.1 678.9,560.0 679.9,560.9 680.9,561.8 681.9,562.5 682.9,563.1 683.9,563.7 684.9,564.3 685.9,564.9 686.9,565.5 687.9,566.0 688.9,566.5 689.9,566.9 690.9,567.4 691.9,567.8 692.9,568.2 693.9,568.6 694.9,569.0 695.9,569.3 696.9,569.5 697.9,569.7 698.9,569.9 699.9,570.1 700.9,570.3 701.9,570.5 702.9,570.7 703.9,570.8 704.9,571.0 705.9,571.1 706.9,571.2 707.9,571.4 708.9,571.5 709.9,571.6 710.9,571.7 711.9,571.9 712.9,572.0 713.9,572.1 714.9,572.2 715.9,572.3 716.9,572.4 717.9,572.5 718.9,572.6 719.9,572.7 720.9,572.8 721.9,572.9 722.9,573.0 723.9,573.1 724.9,573.2 725.9,573.2 726.9,573.3 727.9,573.4 728.9,573.5 729.9,573.5 730.9,573.6 731.9,573.6 732.9,573.7 733.9,573.7 734.9,573.8 735.9,573.8 736.9,573.9 737.9,573.9 738.9,573.9 739.9,573.9 740.9,573.9 741.9,574.0 742.9,574.0 743.9,574.0 744.9,574.0" fill="none" stroke="#ff8020" stroke-width="2.3" stroke-linejoin="round" stroke-linecap="butt" />
<polyline points="564.1,563.6 565.1,563.4 566.1,563.1 567.1,562.8 568.1,562.4 569.1,562.1 570.1,561.8 571.1,561.3 572.1,560.7 573.1,560.1 574.1,559.5 575.1,558.9 576.1,558.2 577.1,557.6 578.1,556.8 579.1,556.0 580.1,555.2 581.1,554.3 582.1,553.5 583.1,552.6 584.1,551.7 585.1,550.9 586.1,550.0 587.1,549.0 588.1,548.1 589.1,547.2 590.1,546.3 591.1,545.4 592.1,544.4 593.1,543.5 594.1,542.5 595.1,541.5 596.1,540.6 597.1,539.6 598.1,538.6 599.1,537.7 600.1,536.7 601.1,535.8 602.1,534.8 603.1,533.9 604.1,532.9 605.1,531.9 606.1,530.8 607.1,529.7 608.1,528.5 609.1,527.4 610.1,526.3 611.1,525.1 612.1,523.9 613.1,522.6 614.1,521.2 615.1,519.8 616.1,518.4 617.1,517.0 618.1,515.6 619.1,514.0 620.1,512.2 621.1,510.3 622.1,508.4 623.1,506.5 624.1,504.7 625.1,502.8 626.1,501.1 627.1,499.5 628.1,498.0 629.1,496.5 630.1,495.0 631.1,493.6 632.1,492.1 633.1,491.1 634.1,490.5 635.1,490.0 636.1,489.5 637.1,489.0 638.1,488.5 639.1,488.2 640.1,488.5 641.1,489.3 642.1,490.3 643.1,491.2 644.1,492.1 645.1,493.1 646.1,494.2 647.1,495.7 648.1,497.6 649.1,499.5 650.1,501.5 651.1,503.4 652.1,505.3 653.1,507.3 654.1,509.4 655.1,511.6 656.1,513.8 657.1,516.1 658.1,518.3 659.1,520.5 660.1,522.7 661.1,524.7 662.1,526.6 663.1,528.5 664.1,530.5 665.1,532.4 666.1,534.3 667.1,536.2 668.1,537.8 669.1,539.4 670.1,541.0 671.1,542.5 672.1,544.1 673.1,545.7 674.1,547.1 675.1,548.3 676.1,549.4 677.1,550.6 678.1,551.7 679.1,552.8 680.1,553.9 681.1,555.0 682.1,555.9 683.1,556.8 684.1,557.6 685.1,558.5 686.1,559.4 687.1,560.3 688.1,561.1 689.1,561.9 690.1,562.7 691.1,563.4 692.1,564.2 693.1,565.0 694.1,565.7 695.1,566.3 696.1,566.8 697.1,567.2 698.1,567.6 699.1,568.0 700.1,568.4 701.1,568.8 702.1,569.1 703.1,569.3 704.1,569.6 705.1,569.8 706.1,570.0 707.1,570.2 708.1,570.4 709.1,570.6 710.1,570.7 711.1,570.9 712.1,571.1 713.1,571.3 714.1,571.4 715.1,571.6 716.1,571.8 717.1,571.9 718.1,572.0 719.1,572.2 720.1,572.3 721.1,572.4 722.1,572.6 723.1,572.7 724.1,572.8 725.1,572.9 726.1,573.0 727.1,573.1 728.1,573.2 729.1,573.3 730.1,573.4 731.1,573.4 732.1,573.5 733.1,573.6 734.1,573.7 735.1,573.7 736.1,573.8 737.1,573.8 738.1,573.8 739.1,573.9 740.1,573.9 741.1,573.9 742.1,574.0 743.1,574.0 744.1,574.0" fill="none" stroke="#e3161c" stroke-width="2.3" stroke-linejoin="round" stroke-linecap="butt" />
<text x="0" y="0" font-size="16" font-weight="bold" class="rot" fill="#111" text-anchor="middle" transform="translate(29.8,329.8) rotate(-90)">PaLS-iDCS</text>
<text x="0" y="0" font-size="16" font-weight="bold" class="rot" fill="#111" text-anchor="middle" transform="translate(29.8,507.7) rotate(-90)">TD-DCS</text>
</svg></body></html>
